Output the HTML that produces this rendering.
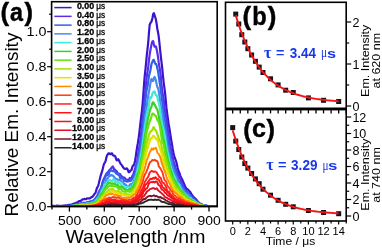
<!DOCTYPE html>
<html><head><meta charset="utf-8"><style>html,body{margin:0;padding:0;background:#fff;width:382px;height:249px;overflow:hidden}</style></head>
<body><svg width="382" height="249" viewBox="0 0 382 249" style="display:block;will-change:transform;font-family:'Liberation Sans', sans-serif">
<defs><clipPath id="clipa"><rect x="51.6" y="1.7" width="165.6" height="204.9"/></clipPath></defs>
<g clip-path="url(#clipa)"><path d="M50.55,205.78 L51.25,205.97 L51.95,205.94 L52.65,205.87 L53.35,205.90 L54.04,205.96 L54.74,206.04 L55.44,205.98 L56.14,205.75 L56.84,205.52 L57.53,205.64 L58.23,205.85 L58.93,205.89 L59.63,205.95 L60.33,205.97 L61.02,205.88 L61.72,205.79 L62.42,205.75 L63.12,205.69 L63.82,205.70 L64.51,205.60 L65.21,205.41 L65.91,205.41 L66.61,205.48 L67.31,205.37 L68.00,205.07 L68.70,204.87 L69.40,204.95 L70.10,204.89 L70.80,204.69 L71.49,204.67 L72.19,204.44 L72.89,203.99 L73.59,203.69 L74.29,203.42 L74.98,203.34 L75.68,203.25 L76.38,202.66 L77.08,202.42 L77.78,202.26 L78.47,201.52 L79.17,201.01 L79.87,201.04 L80.57,200.95 L81.27,200.51 L81.96,199.95 L82.66,199.41 L83.36,199.24 L84.06,199.13 L84.76,198.92 L85.45,199.07 L86.15,199.07 L86.85,198.55 L87.55,198.25 L88.25,198.39 L88.94,198.32 L89.64,198.29 L90.34,198.23 L91.04,197.36 L91.74,196.84 L92.43,196.78 L93.13,196.06 L93.83,194.93 L94.53,193.94 L95.23,193.26 L95.92,191.65 L96.62,189.00 L97.32,187.28 L98.02,186.25 L98.72,183.76 L99.41,180.72 L100.11,177.89 L100.81,175.13 L101.51,173.11 L102.21,170.94 L102.90,168.14 L103.60,165.15 L104.30,163.26 L105.00,162.53 L105.70,160.66 L106.39,157.43 L107.09,155.42 L107.79,154.34 L108.49,153.25 L109.19,153.26 L109.88,153.89 L110.58,154.21 L111.28,153.53 L111.98,153.28 L112.68,154.78 L113.37,155.72 L114.07,155.70 L114.77,155.84 L115.47,156.89 L116.17,159.14 L116.86,160.37 L117.56,159.69 L118.26,159.24 L118.96,160.28 L119.66,162.01 L120.35,163.38 L121.05,164.35 L121.75,165.15 L122.45,166.10 L123.15,167.38 L123.84,168.17 L124.54,168.55 L125.24,168.99 L125.94,168.88 L126.64,168.41 L127.33,168.79 L128.03,170.51 L128.73,172.25 L129.43,172.17 L130.13,170.97 L130.82,170.49 L131.52,169.84 L132.22,167.34 L132.92,165.64 L133.62,165.52 L134.31,164.05 L135.01,160.97 L135.71,156.86 L136.41,151.75 L137.11,147.06 L137.80,143.49 L138.50,139.29 L139.20,133.82 L139.90,127.70 L140.60,121.51 L141.29,115.77 L141.99,110.08 L142.69,102.91 L143.39,93.66 L144.09,83.49 L144.78,75.38 L145.48,69.18 L146.18,61.83 L146.88,54.30 L147.58,48.50 L148.27,41.97 L148.97,32.47 L149.67,24.97 L150.37,23.06 L151.07,22.32 L151.76,20.71 L152.46,17.98 L153.16,14.13 L153.86,13.11 L154.56,15.07 L155.25,17.26 L155.95,19.71 L156.65,23.92 L157.35,29.00 L158.05,32.49 L158.74,36.67 L159.44,43.16 L160.14,50.00 L160.84,56.66 L161.54,62.34 L162.23,68.15 L162.93,75.53 L163.63,81.98 L164.33,87.27 L165.03,92.65 L165.72,99.83 L166.42,107.69 L167.12,113.04 L167.82,118.18 L168.52,123.25 L169.21,127.26 L169.91,131.50 L170.61,136.27 L171.31,140.55 L172.01,144.37 L172.70,148.89 L173.40,152.54 L174.10,155.43 L174.80,158.00 L175.50,159.64 L176.19,161.60 L176.89,164.28 L177.59,167.66 L178.29,170.46 L178.99,172.00 L179.68,173.76 L180.38,175.87 L181.08,177.51 L181.78,178.62 L182.48,180.02 L183.17,181.83 L183.87,183.36 L184.57,185.15 L185.27,186.84 L185.97,187.99 L186.66,188.86 L187.36,189.13 L188.06,189.57 L188.76,190.55 L189.46,191.19 L190.15,191.82 L190.85,193.00 L191.55,194.19 L192.25,195.42 L192.95,196.36 L193.64,197.02 L194.34,197.89 L195.04,198.45 L195.74,198.95 L196.44,199.71 L197.13,200.75 L197.83,201.66 L198.53,202.24 L199.23,202.87 L199.93,203.39 L200.62,203.79 L201.32,204.19 L202.02,204.60 L202.72,204.93 L203.42,205.26 L204.11,205.54 L204.81,205.65 L205.51,205.69 L206.21,205.64 L206.91,205.81 L207.60,206.11 L208.30,206.16 L209.00,206.19 L209.70,206.26 L210.40,206.24 L211.09,206.33 L211.79,206.42 L212.49,206.38 L213.19,206.33 L213.89,206.36 L214.58,206.39 L215.28,206.32 L215.98,206.31 L216.68,206.42 L217.38,206.42" fill="none" stroke="#3a14d0" stroke-width="2.2" stroke-linejoin="round"/><path d="M50.55,206.30 L51.25,206.25 L51.95,206.15 L52.65,206.22 L53.35,206.35 L54.04,206.35 L54.74,206.21 L55.44,206.10 L56.14,206.18 L56.84,206.23 L57.53,206.22 L58.23,206.16 L58.93,206.11 L59.63,206.19 L60.33,206.22 L61.02,206.19 L61.72,206.24 L62.42,206.24 L63.12,206.15 L63.82,206.16 L64.51,206.22 L65.21,206.25 L65.91,206.19 L66.61,206.01 L67.31,205.88 L68.00,205.80 L68.70,205.74 L69.40,205.73 L70.10,205.72 L70.80,205.60 L71.49,205.54 L72.19,205.48 L72.89,205.27 L73.59,205.06 L74.29,205.03 L74.98,204.92 L75.68,204.54 L76.38,204.24 L77.08,204.29 L77.78,204.28 L78.47,204.00 L79.17,203.88 L79.87,203.96 L80.57,203.63 L81.27,203.33 L81.96,203.29 L82.66,203.01 L83.36,202.96 L84.06,203.08 L84.76,203.11 L85.45,203.19 L86.15,202.82 L86.85,202.40 L87.55,202.34 L88.25,202.14 L88.94,202.02 L89.64,201.97 L90.34,202.17 L91.04,202.44 L91.74,202.00 L92.43,201.48 L93.13,201.36 L93.83,200.87 L94.53,199.96 L95.23,199.44 L95.92,198.93 L96.62,197.55 L97.32,195.92 L98.02,194.49 L98.72,192.54 L99.41,190.61 L100.11,189.56 L100.81,188.61 L101.51,186.76 L102.21,184.00 L102.90,181.39 L103.60,179.47 L104.30,177.92 L105.00,176.47 L105.70,174.97 L106.39,173.73 L107.09,172.87 L107.79,172.35 L108.49,171.48 L109.19,170.27 L109.88,169.72 L110.58,168.99 L111.28,168.06 L111.98,167.16 L112.68,166.35 L113.37,167.54 L114.07,169.20 L114.77,169.45 L115.47,170.17 L116.17,170.97 L116.86,171.35 L117.56,173.27 L118.26,174.68 L118.96,174.10 L119.66,173.84 L120.35,174.37 L121.05,175.90 L121.75,176.73 L122.45,176.72 L123.15,177.67 L123.84,177.88 L124.54,177.68 L125.24,178.59 L125.94,179.43 L126.64,179.51 L127.33,179.75 L128.03,180.15 L128.73,179.76 L129.43,178.61 L130.13,177.86 L130.82,178.27 L131.52,177.94 L132.22,176.35 L132.92,175.00 L133.62,173.43 L134.31,171.12 L135.01,168.75 L135.71,166.56 L136.41,164.32 L137.11,161.67 L137.80,156.63 L138.50,150.95 L139.20,147.48 L139.90,143.98 L140.60,138.45 L141.29,131.39 L141.99,125.15 L142.69,118.96 L143.39,110.91 L144.09,102.89 L144.78,96.19 L145.48,89.25 L146.18,81.52 L146.88,75.77 L147.58,71.50 L148.27,66.39 L148.97,60.15 L149.67,54.47 L150.37,50.43 L151.07,46.62 L151.76,43.40 L152.46,41.25 L153.16,41.16 L153.86,44.11 L154.56,46.71 L155.25,46.24 L155.95,46.55 L156.65,49.26 L157.35,52.81 L158.05,57.45 L158.74,62.68 L159.44,66.87 L160.14,70.61 L160.84,76.85 L161.54,84.68 L162.23,91.11 L162.93,95.03 L163.63,98.79 L164.33,105.15 L165.03,111.15 L165.72,114.79 L166.42,119.07 L167.12,124.58 L167.82,129.61 L168.52,134.26 L169.21,138.89 L169.91,143.67 L170.61,147.66 L171.31,150.47 L172.01,153.18 L172.70,156.95 L173.40,161.14 L174.10,163.20 L174.80,165.01 L175.50,167.83 L176.19,169.75 L176.89,171.32 L177.59,173.52 L178.29,175.86 L178.99,177.27 L179.68,178.03 L180.38,179.43 L181.08,181.46 L181.78,183.13 L182.48,184.19 L183.17,185.52 L183.87,187.56 L184.57,188.91 L185.27,189.60 L185.97,190.63 L186.66,191.39 L187.36,191.75 L188.06,192.55 L188.76,193.46 L189.46,194.26 L190.15,195.13 L190.85,195.82 L191.55,196.77 L192.25,197.37 L192.95,197.55 L193.64,198.34 L194.34,199.27 L195.04,199.79 L195.74,200.26 L196.44,200.96 L197.13,201.54 L197.83,202.12 L198.53,202.93 L199.23,203.57 L199.93,203.84 L200.62,203.97 L201.32,204.19 L202.02,204.56 L202.72,204.99 L203.42,205.25 L204.11,205.40 L204.81,205.58 L205.51,205.67 L206.21,205.82 L206.91,206.04 L207.60,206.14 L208.30,206.12 L209.00,206.01 L209.70,206.03 L210.40,206.21 L211.09,206.40 L211.79,206.48 L212.49,206.41 L213.19,206.40 L213.89,206.42 L214.58,206.42 L215.28,206.47 L215.98,206.45 L216.68,206.43 L217.38,206.47" fill="none" stroke="#5a2ee8" stroke-width="2.2" stroke-linejoin="round"/><path d="M50.55,206.16 L51.25,206.19 L51.95,206.35 L52.65,206.37 L53.35,206.24 L54.04,206.26 L54.74,206.33 L55.44,206.30 L56.14,206.26 L56.84,206.22 L57.53,206.17 L58.23,206.11 L58.93,206.04 L59.63,206.05 L60.33,206.10 L61.02,206.08 L61.72,206.07 L62.42,206.17 L63.12,206.24 L63.82,206.17 L64.51,206.06 L65.21,205.99 L65.91,205.99 L66.61,205.98 L67.31,205.86 L68.00,205.76 L68.70,205.80 L69.40,205.82 L70.10,205.76 L70.80,205.70 L71.49,205.60 L72.19,205.46 L72.89,205.21 L73.59,204.98 L74.29,204.97 L74.98,204.90 L75.68,204.64 L76.38,204.48 L77.08,204.49 L77.78,204.34 L78.47,203.97 L79.17,203.70 L79.87,203.64 L80.57,203.68 L81.27,203.53 L81.96,203.08 L82.66,202.74 L83.36,202.76 L84.06,202.76 L84.76,202.75 L85.45,202.84 L86.15,202.75 L86.85,202.52 L87.55,202.32 L88.25,202.36 L88.94,202.28 L89.64,201.68 L90.34,201.35 L91.04,201.47 L91.74,201.33 L92.43,200.90 L93.13,200.67 L93.83,200.28 L94.53,199.40 L95.23,198.56 L95.92,197.66 L96.62,196.83 L97.32,195.99 L98.02,194.48 L98.72,192.88 L99.41,191.68 L100.11,190.21 L100.81,188.70 L101.51,186.82 L102.21,184.01 L102.90,181.95 L103.60,180.40 L104.30,178.84 L105.00,177.91 L105.70,176.10 L106.39,173.71 L107.09,173.41 L107.79,174.91 L108.49,175.01 L109.19,172.58 L109.88,170.55 L110.58,170.54 L111.28,170.57 L111.98,170.58 L112.68,171.19 L113.37,171.15 L114.07,171.00 L114.77,171.55 L115.47,172.54 L116.17,173.39 L116.86,173.86 L117.56,174.13 L118.26,173.60 L118.96,173.95 L119.66,176.61 L120.35,178.57 L121.05,178.42 L121.75,177.94 L122.45,177.96 L123.15,178.85 L123.84,180.39 L124.54,180.81 L125.24,180.77 L125.94,181.29 L126.64,181.45 L127.33,181.55 L128.03,181.51 L128.73,181.22 L129.43,180.95 L130.13,180.95 L130.82,180.93 L131.52,179.99 L132.22,178.72 L132.92,177.21 L133.62,175.67 L134.31,174.77 L135.01,173.47 L135.71,171.00 L136.41,167.45 L137.11,163.86 L137.80,160.47 L138.50,156.33 L139.20,152.63 L139.90,149.67 L140.60,145.52 L141.29,139.26 L141.99,133.55 L142.69,128.20 L143.39,120.01 L144.09,112.27 L144.78,106.91 L145.48,100.25 L146.18,92.83 L146.88,88.70 L147.58,86.00 L148.27,81.17 L148.97,75.96 L149.67,73.12 L150.37,70.48 L151.07,66.10 L151.76,63.19 L152.46,61.65 L153.16,60.10 L153.86,59.90 L154.56,61.97 L155.25,63.92 L155.95,63.82 L156.65,65.18 L157.35,68.40 L158.05,71.31 L158.74,76.02 L159.44,80.88 L160.14,85.23 L160.84,90.85 L161.54,96.19 L162.23,101.52 L162.93,107.31 L163.63,113.35 L164.33,117.71 L165.03,120.84 L165.72,125.51 L166.42,130.81 L167.12,135.30 L167.82,139.79 L168.52,144.91 L169.21,148.85 L169.91,151.79 L170.61,155.20 L171.31,158.20 L172.01,160.62 L172.70,163.20 L173.40,165.20 L174.10,166.61 L174.80,168.60 L175.50,171.13 L176.19,173.87 L176.89,176.54 L177.59,178.51 L178.29,180.16 L178.99,181.85 L179.68,182.54 L180.38,182.58 L181.08,183.29 L181.78,185.10 L182.48,186.99 L183.17,188.20 L183.87,189.16 L184.57,189.92 L185.27,190.69 L185.97,190.98 L186.66,191.24 L187.36,192.05 L188.06,192.97 L188.76,194.30 L189.46,195.22 L190.15,195.30 L190.85,195.91 L191.55,197.12 L192.25,198.14 L192.95,198.93 L193.64,199.24 L194.34,199.53 L195.04,200.35 L195.74,201.33 L196.44,201.97 L197.13,202.18 L197.83,202.47 L198.53,203.03 L199.23,203.73 L199.93,204.16 L200.62,204.30 L201.32,204.66 L202.02,204.99 L202.72,205.29 L203.42,205.65 L204.11,205.73 L204.81,205.74 L205.51,205.77 L206.21,205.82 L206.91,206.06 L207.60,206.30 L208.30,206.31 L209.00,206.27 L209.70,206.34 L210.40,206.47 L211.09,206.48 L211.79,206.38 L212.49,206.36 L213.19,206.45 L213.89,206.46 L214.58,206.45 L215.28,206.55 L215.98,206.47 L216.68,206.33 L217.38,206.38" fill="none" stroke="#3060e8" stroke-width="2.2" stroke-linejoin="round"/><path d="M50.55,206.38 L51.25,206.37 L51.95,206.33 L52.65,206.37 L53.35,206.36 L54.04,206.35 L54.74,206.37 L55.44,206.36 L56.14,206.42 L56.84,206.42 L57.53,206.37 L58.23,206.35 L58.93,206.29 L59.63,206.27 L60.33,206.34 L61.02,206.39 L61.72,206.39 L62.42,206.34 L63.12,206.28 L63.82,206.27 L64.51,206.26 L65.21,206.27 L65.91,206.25 L66.61,206.19 L67.31,206.19 L68.00,206.08 L68.70,205.98 L69.40,206.04 L70.10,206.09 L70.80,206.07 L71.49,206.03 L72.19,205.95 L72.89,205.80 L73.59,205.61 L74.29,205.32 L74.98,205.03 L75.68,204.92 L76.38,204.85 L77.08,204.79 L77.78,204.78 L78.47,204.83 L79.17,204.76 L79.87,204.30 L80.57,203.87 L81.27,203.91 L81.96,203.89 L82.66,203.68 L83.36,203.78 L84.06,203.96 L84.76,203.98 L85.45,203.84 L86.15,203.39 L86.85,203.02 L87.55,203.23 L88.25,203.48 L88.94,203.35 L89.64,203.28 L90.34,203.24 L91.04,202.80 L91.74,202.33 L92.43,202.07 L93.13,201.94 L93.83,201.99 L94.53,201.47 L95.23,200.18 L95.92,199.48 L96.62,199.20 L97.32,198.16 L98.02,196.75 L98.72,195.41 L99.41,194.22 L100.11,193.00 L100.81,191.38 L101.51,189.74 L102.21,188.67 L102.90,188.30 L103.60,187.31 L104.30,185.32 L105.00,183.38 L105.70,181.25 L106.39,179.48 L107.09,178.73 L107.79,178.16 L108.49,176.97 L109.19,176.11 L109.88,175.97 L110.58,175.39 L111.28,175.12 L111.98,175.19 L112.68,175.47 L113.37,176.21 L114.07,176.79 L114.77,177.76 L115.47,178.73 L116.17,178.88 L116.86,178.97 L117.56,179.52 L118.26,180.18 L118.96,180.48 L119.66,179.96 L120.35,179.97 L121.05,180.84 L121.75,181.38 L122.45,181.69 L123.15,182.17 L123.84,183.68 L124.54,184.66 L125.24,184.32 L125.94,184.91 L126.64,185.93 L127.33,186.40 L128.03,186.50 L128.73,186.19 L129.43,185.43 L130.13,184.19 L130.82,183.96 L131.52,184.57 L132.22,183.98 L132.92,182.79 L133.62,181.60 L134.31,179.51 L135.01,177.36 L135.71,175.46 L136.41,172.62 L137.11,168.69 L137.80,164.62 L138.50,161.51 L139.20,158.82 L139.90,155.63 L140.60,151.96 L141.29,147.60 L141.99,142.51 L142.69,137.13 L143.39,132.46 L144.09,127.06 L144.78,120.14 L145.48,114.68 L146.18,110.87 L146.88,105.77 L147.58,99.82 L148.27,95.39 L148.97,91.72 L149.67,87.69 L150.37,83.51 L151.07,79.81 L151.76,78.99 L152.46,80.86 L153.16,80.98 L153.86,78.21 L154.56,76.94 L155.25,78.34 L155.95,80.52 L156.65,84.17 L157.35,87.09 L158.05,88.38 L158.74,91.02 L159.44,95.85 L160.14,101.26 L160.84,105.65 L161.54,109.53 L162.23,113.77 L162.93,118.96 L163.63,124.06 L164.33,127.48 L165.03,130.56 L165.72,135.32 L166.42,140.66 L167.12,145.07 L167.82,147.88 L168.52,150.78 L169.21,155.37 L169.91,158.45 L170.61,159.76 L171.31,162.09 L172.01,165.10 L172.70,167.37 L173.40,169.30 L174.10,171.61 L174.80,173.60 L175.50,175.17 L176.19,176.83 L176.89,178.78 L177.59,180.74 L178.29,182.31 L178.99,184.28 L179.68,185.68 L180.38,186.26 L181.08,187.25 L181.78,188.39 L182.48,189.22 L183.17,189.72 L183.87,191.01 L184.57,192.41 L185.27,192.77 L185.97,193.31 L186.66,194.25 L187.36,194.46 L188.06,194.53 L188.76,195.44 L189.46,196.61 L190.15,197.31 L190.85,197.91 L191.55,199.15 L192.25,200.07 L192.95,200.18 L193.64,200.11 L194.34,200.19 L195.04,200.95 L195.74,201.99 L196.44,202.49 L197.13,202.80 L197.83,203.35 L198.53,203.82 L199.23,204.10 L199.93,204.38 L200.62,204.68 L201.32,204.86 L202.02,204.91 L202.72,205.21 L203.42,205.51 L204.11,205.52 L204.81,205.64 L205.51,205.87 L206.21,206.05 L206.91,206.14 L207.60,206.19 L208.30,206.23 L209.00,206.24 L209.70,206.31 L210.40,206.42 L211.09,206.40 L211.79,206.35 L212.49,206.37 L213.19,206.44 L213.89,206.47 L214.58,206.49 L215.28,206.55 L215.98,206.51 L216.68,206.42 L217.38,206.44" fill="none" stroke="#4a88f0" stroke-width="2.2" stroke-linejoin="round"/><path d="M50.55,206.41 L51.25,206.39 L51.95,206.27 L52.65,206.24 L53.35,206.32 L54.04,206.38 L54.74,206.36 L55.44,206.27 L56.14,206.30 L56.84,206.36 L57.53,206.32 L58.23,206.31 L58.93,206.33 L59.63,206.36 L60.33,206.42 L61.02,206.41 L61.72,206.36 L62.42,206.38 L63.12,206.36 L63.82,206.26 L64.51,206.30 L65.21,206.37 L65.91,206.32 L66.61,206.19 L67.31,206.11 L68.00,206.09 L68.70,206.12 L69.40,206.20 L70.10,206.17 L70.80,206.06 L71.49,205.94 L72.19,205.92 L72.89,205.81 L73.59,205.51 L74.29,205.48 L74.98,205.41 L75.68,205.14 L76.38,205.01 L77.08,205.17 L77.78,205.41 L78.47,205.14 L79.17,204.76 L79.87,204.79 L80.57,204.95 L81.27,204.80 L81.96,204.31 L82.66,204.16 L83.36,204.31 L84.06,204.22 L84.76,204.16 L85.45,204.19 L86.15,204.02 L86.85,203.76 L87.55,203.52 L88.25,203.40 L88.94,203.52 L89.64,203.56 L90.34,203.43 L91.04,203.48 L91.74,203.31 L92.43,202.83 L93.13,202.57 L93.83,202.20 L94.53,201.78 L95.23,201.42 L95.92,200.62 L96.62,199.80 L97.32,199.07 L98.02,198.21 L98.72,197.66 L99.41,196.89 L100.11,195.36 L100.81,193.61 L101.51,191.78 L102.21,190.43 L102.90,189.39 L103.60,187.67 L104.30,185.67 L105.00,184.41 L105.70,183.69 L106.39,183.01 L107.09,182.39 L107.79,181.47 L108.49,180.51 L109.19,180.01 L109.88,179.97 L110.58,180.57 L111.28,181.23 L111.98,181.12 L112.68,180.13 L113.37,179.12 L114.07,179.64 L114.77,181.38 L115.47,182.02 L116.17,181.41 L116.86,181.86 L117.56,182.69 L118.26,182.57 L118.96,182.57 L119.66,182.96 L120.35,183.55 L121.05,184.18 L121.75,185.13 L122.45,186.18 L123.15,186.66 L123.84,186.72 L124.54,186.89 L125.24,187.83 L125.94,188.27 L126.64,187.50 L127.33,186.88 L128.03,186.78 L128.73,187.41 L129.43,188.30 L130.13,188.14 L130.82,187.24 L131.52,186.80 L132.22,186.40 L132.92,184.88 L133.62,183.43 L134.31,182.40 L135.01,180.24 L135.71,177.64 L136.41,175.31 L137.11,172.44 L137.80,169.57 L138.50,167.10 L139.20,164.55 L139.90,161.21 L140.60,157.21 L141.29,153.83 L141.99,149.62 L142.69,144.35 L143.39,139.50 L144.09,133.76 L144.78,128.06 L145.48,123.80 L146.18,119.25 L146.88,114.13 L147.58,110.84 L148.27,109.15 L148.97,104.91 L149.67,99.05 L150.37,97.23 L151.07,97.94 L151.76,96.02 L152.46,93.37 L153.16,92.29 L153.86,91.54 L154.56,91.64 L155.25,93.46 L155.95,95.51 L156.65,95.42 L157.35,96.58 L158.05,100.27 L158.74,102.74 L159.44,105.71 L160.14,110.50 L160.84,116.03 L161.54,121.43 L162.23,124.94 L162.93,127.17 L163.63,130.07 L164.33,133.79 L165.03,137.76 L165.72,142.20 L166.42,147.23 L167.12,151.27 L167.82,153.68 L168.52,156.30 L169.21,160.13 L169.91,163.88 L170.61,166.66 L171.31,168.84 L172.01,170.76 L172.70,172.87 L173.40,174.55 L174.10,175.94 L174.80,177.30 L175.50,178.98 L176.19,181.75 L176.89,183.49 L177.59,183.31 L178.29,183.53 L178.99,184.89 L179.68,186.51 L180.38,187.83 L181.08,189.30 L181.78,190.81 L182.48,191.49 L183.17,192.00 L183.87,192.55 L184.57,193.25 L185.27,194.59 L185.97,195.19 L186.66,195.37 L187.36,196.37 L188.06,197.42 L188.76,197.98 L189.46,197.96 L190.15,197.83 L190.85,198.31 L191.55,199.09 L192.25,199.66 L192.95,200.02 L193.64,200.68 L194.34,201.47 L195.04,201.89 L195.74,202.06 L196.44,202.41 L197.13,202.98 L197.83,203.29 L198.53,203.64 L199.23,204.40 L199.93,204.83 L200.62,204.85 L201.32,205.05 L202.02,205.34 L202.72,205.53 L203.42,205.68 L204.11,205.80 L204.81,205.91 L205.51,206.03 L206.21,206.22 L206.91,206.31 L207.60,206.31 L208.30,206.33 L209.00,206.34 L209.70,206.39 L210.40,206.44 L211.09,206.44 L211.79,206.51 L212.49,206.58 L213.19,206.58 L213.89,206.55 L214.58,206.52 L215.28,206.46 L215.98,206.42 L216.68,206.39 L217.38,206.38" fill="none" stroke="#40e8d8" stroke-width="2.2" stroke-linejoin="round"/><path d="M50.55,206.39 L51.25,206.38 L51.95,206.32 L52.65,206.34 L53.35,206.42 L54.04,206.40 L54.74,206.36 L55.44,206.37 L56.14,206.37 L56.84,206.37 L57.53,206.40 L58.23,206.42 L58.93,206.43 L59.63,206.43 L60.33,206.46 L61.02,206.50 L61.72,206.43 L62.42,206.34 L63.12,206.36 L63.82,206.38 L64.51,206.39 L65.21,206.44 L65.91,206.44 L66.61,206.38 L67.31,206.29 L68.00,206.24 L68.70,206.23 L69.40,206.22 L70.10,206.28 L70.80,206.25 L71.49,206.06 L72.19,205.95 L72.89,206.05 L73.59,206.08 L74.29,205.84 L74.98,205.71 L75.68,205.74 L76.38,205.68 L77.08,205.50 L77.78,205.25 L78.47,205.17 L79.17,205.07 L79.87,204.78 L80.57,204.78 L81.27,204.84 L81.96,204.69 L82.66,204.46 L83.36,204.18 L84.06,204.24 L84.76,204.50 L85.45,204.57 L86.15,204.52 L86.85,204.37 L87.55,204.24 L88.25,204.12 L88.94,203.93 L89.64,203.95 L90.34,203.92 L91.04,203.88 L91.74,204.08 L92.43,203.85 L93.13,203.28 L93.83,202.94 L94.53,202.59 L95.23,202.18 L95.92,201.80 L96.62,201.37 L97.32,201.01 L98.02,200.09 L98.72,198.66 L99.41,197.81 L100.11,196.68 L100.81,194.81 L101.51,193.61 L102.21,193.04 L102.90,192.06 L103.60,190.88 L104.30,189.69 L105.00,188.23 L105.70,187.07 L106.39,186.10 L107.09,184.97 L107.79,183.79 L108.49,182.65 L109.19,182.81 L109.88,183.51 L110.58,183.31 L111.28,183.70 L111.98,183.88 L112.68,183.38 L113.37,183.67 L114.07,183.75 L114.77,183.71 L115.47,184.63 L116.17,185.22 L116.86,184.81 L117.56,184.61 L118.26,185.62 L118.96,186.97 L119.66,187.33 L120.35,186.83 L121.05,186.44 L121.75,186.89 L122.45,187.48 L123.15,188.04 L123.84,188.79 L124.54,189.08 L125.24,189.49 L125.94,190.16 L126.64,190.14 L127.33,190.17 L128.03,190.39 L128.73,189.88 L129.43,189.24 L130.13,189.18 L130.82,189.25 L131.52,188.35 L132.22,186.94 L132.92,186.44 L133.62,186.12 L134.31,184.53 L135.01,182.55 L135.71,181.07 L136.41,178.48 L137.11,175.47 L137.80,173.88 L138.50,172.43 L139.20,170.22 L139.90,166.64 L140.60,162.27 L141.29,159.31 L141.99,156.56 L142.69,152.14 L143.39,146.53 L144.09,141.59 L144.78,137.43 L145.48,133.00 L146.18,128.93 L146.88,124.71 L147.58,120.33 L148.27,117.02 L148.97,114.44 L149.67,111.33 L150.37,108.97 L151.07,107.80 L151.76,105.47 L152.46,102.91 L153.16,102.18 L153.86,103.24 L154.56,104.44 L155.25,105.64 L155.95,107.39 L156.65,108.52 L157.35,109.54 L158.05,112.32 L158.74,116.11 L159.44,120.08 L160.14,123.48 L160.84,125.79 L161.54,128.99 L162.23,133.16 L162.93,137.15 L163.63,140.13 L164.33,142.49 L165.03,146.19 L165.72,150.26 L166.42,153.03 L167.12,156.29 L167.82,159.65 L168.52,162.11 L169.21,164.93 L169.91,167.86 L170.61,170.16 L171.31,171.95 L172.01,173.90 L172.70,176.25 L173.40,178.43 L174.10,179.81 L174.80,180.51 L175.50,181.60 L176.19,183.02 L176.89,184.22 L177.59,185.99 L178.29,187.52 L178.99,188.38 L179.68,189.40 L180.38,189.96 L181.08,190.60 L181.78,191.86 L182.48,192.37 L183.17,192.57 L183.87,193.69 L184.57,194.70 L185.27,195.32 L185.97,196.14 L186.66,196.76 L187.36,197.57 L188.06,198.26 L188.76,198.36 L189.46,198.99 L190.15,199.55 L190.85,199.59 L191.55,200.12 L192.25,200.76 L192.95,201.15 L193.64,201.69 L194.34,202.27 L195.04,202.75 L195.74,202.98 L196.44,203.10 L197.13,203.43 L197.83,203.77 L198.53,204.10 L199.23,204.58 L199.93,205.00 L200.62,205.10 L201.32,205.15 L202.02,205.40 L202.72,205.64 L203.42,205.79 L204.11,205.89 L204.81,205.98 L205.51,206.11 L206.21,206.24 L206.91,206.36 L207.60,206.39 L208.30,206.35 L209.00,206.32 L209.70,206.36 L210.40,206.44 L211.09,206.49 L211.79,206.45 L212.49,206.48 L213.19,206.53 L213.89,206.48 L214.58,206.42 L215.28,206.44 L215.98,206.55 L216.68,206.58 L217.38,206.50" fill="none" stroke="#40d020" stroke-width="2.2" stroke-linejoin="round"/><path d="M50.55,206.60 L51.25,206.60 L51.95,206.58 L52.65,206.61 L53.35,206.61 L54.04,206.52 L54.74,206.43 L55.44,206.43 L56.14,206.46 L56.84,206.46 L57.53,206.41 L58.23,206.40 L58.93,206.46 L59.63,206.53 L60.33,206.53 L61.02,206.52 L61.72,206.49 L62.42,206.49 L63.12,206.52 L63.82,206.45 L64.51,206.37 L65.21,206.36 L65.91,206.39 L66.61,206.45 L67.31,206.47 L68.00,206.43 L68.70,206.31 L69.40,206.20 L70.10,206.19 L70.80,206.25 L71.49,206.25 L72.19,206.16 L72.89,206.16 L73.59,206.27 L74.29,206.20 L74.98,206.01 L75.68,205.78 L76.38,205.54 L77.08,205.55 L77.78,205.65 L78.47,205.45 L79.17,205.24 L79.87,205.25 L80.57,205.15 L81.27,204.95 L81.96,204.84 L82.66,204.89 L83.36,204.96 L84.06,204.88 L84.76,204.76 L85.45,204.68 L86.15,204.57 L86.85,204.45 L87.55,204.51 L88.25,204.62 L88.94,204.62 L89.64,204.53 L90.34,204.40 L91.04,204.23 L91.74,204.10 L92.43,204.15 L93.13,203.96 L93.83,203.50 L94.53,203.30 L95.23,202.96 L95.92,202.22 L96.62,201.95 L97.32,201.94 L98.02,200.97 L98.72,199.54 L99.41,198.65 L100.11,197.77 L100.81,196.67 L101.51,195.95 L102.21,195.02 L102.90,193.71 L103.60,192.46 L104.30,191.07 L105.00,190.03 L105.70,189.21 L106.39,188.42 L107.09,188.16 L107.79,187.29 L108.49,186.05 L109.19,185.64 L109.88,185.58 L110.58,185.83 L111.28,186.01 L111.98,185.86 L112.68,185.94 L113.37,186.22 L114.07,186.25 L114.77,186.00 L115.47,186.15 L116.17,186.73 L116.86,186.99 L117.56,187.52 L118.26,188.81 L118.96,189.11 L119.66,188.24 L120.35,188.35 L121.05,189.29 L121.75,190.10 L122.45,191.03 L123.15,191.45 L123.84,191.48 L124.54,191.64 L125.24,191.58 L125.94,191.75 L126.64,191.52 L127.33,190.78 L128.03,190.94 L128.73,191.48 L129.43,191.62 L130.13,191.80 L130.82,191.41 L131.52,190.14 L132.22,189.24 L132.92,188.85 L133.62,187.98 L134.31,187.14 L135.01,186.29 L135.71,184.02 L136.41,181.36 L137.11,179.46 L137.80,177.21 L138.50,174.95 L139.20,172.72 L139.90,169.17 L140.60,165.23 L141.29,161.71 L141.99,158.73 L142.69,156.24 L143.39,153.03 L144.09,149.20 L144.78,145.29 L145.48,140.57 L146.18,135.00 L146.88,131.14 L147.58,128.75 L148.27,126.03 L148.97,123.75 L149.67,121.44 L150.37,119.73 L151.07,118.11 L151.76,115.32 L152.46,113.66 L153.16,113.70 L153.86,114.39 L154.56,115.05 L155.25,115.57 L155.95,116.34 L156.65,117.85 L157.35,119.85 L158.05,121.08 L158.74,122.25 L159.44,124.40 L160.14,127.82 L160.84,132.42 L161.54,137.44 L162.23,141.32 L162.93,142.89 L163.63,144.07 L164.33,148.18 L165.03,153.76 L165.72,156.78 L166.42,158.92 L167.12,161.62 L167.82,163.76 L168.52,166.24 L169.21,168.96 L169.91,171.62 L170.61,174.35 L171.31,176.38 L172.01,177.47 L172.70,178.89 L173.40,181.03 L174.10,182.20 L174.80,182.95 L175.50,184.22 L176.19,185.56 L176.89,186.91 L177.59,187.68 L178.29,187.93 L178.99,188.56 L179.68,189.71 L180.38,190.92 L181.08,192.17 L181.78,192.93 L182.48,193.30 L183.17,193.98 L183.87,194.68 L184.57,195.19 L185.27,195.39 L185.97,196.18 L186.66,197.26 L187.36,197.63 L188.06,198.11 L188.76,198.83 L189.46,199.30 L190.15,199.81 L190.85,200.53 L191.55,201.06 L192.25,201.27 L192.95,201.33 L193.64,201.49 L194.34,201.92 L195.04,202.54 L195.74,203.30 L196.44,203.78 L197.13,203.87 L197.83,204.07 L198.53,204.30 L199.23,204.56 L199.93,204.98 L200.62,205.45 L201.32,205.71 L202.02,205.69 L202.72,205.77 L203.42,205.93 L204.11,206.03 L204.81,206.17 L205.51,206.17 L206.21,206.09 L206.91,206.15 L207.60,206.25 L208.30,206.31 L209.00,206.37 L209.70,206.36 L210.40,206.35 L211.09,206.41 L211.79,206.46 L212.49,206.50 L213.19,206.59 L213.89,206.68 L214.58,206.63 L215.28,206.46 L215.98,206.43 L216.68,206.51 L217.38,206.54" fill="none" stroke="#66e010" stroke-width="2.2" stroke-linejoin="round"/><path d="M50.55,206.54 L51.25,206.53 L51.95,206.50 L52.65,206.55 L53.35,206.65 L54.04,206.63 L54.74,206.53 L55.44,206.46 L56.14,206.48 L56.84,206.53 L57.53,206.54 L58.23,206.52 L58.93,206.48 L59.63,206.39 L60.33,206.36 L61.02,206.43 L61.72,206.50 L62.42,206.47 L63.12,206.43 L63.82,206.45 L64.51,206.46 L65.21,206.48 L65.91,206.51 L66.61,206.43 L67.31,206.38 L68.00,206.44 L68.70,206.41 L69.40,206.37 L70.10,206.42 L70.80,206.44 L71.49,206.44 L72.19,206.42 L72.89,206.38 L73.59,206.31 L74.29,206.20 L74.98,206.10 L75.68,206.11 L76.38,206.07 L77.08,205.82 L77.78,205.78 L78.47,205.88 L79.17,205.77 L79.87,205.66 L80.57,205.68 L81.27,205.64 L81.96,205.51 L82.66,205.43 L83.36,205.41 L84.06,205.30 L84.76,205.23 L85.45,205.17 L86.15,205.06 L86.85,205.17 L87.55,205.28 L88.25,205.13 L88.94,205.02 L89.64,204.98 L90.34,204.75 L91.04,204.50 L91.74,204.54 L92.43,204.59 L93.13,204.40 L93.83,204.11 L94.53,204.02 L95.23,204.02 L95.92,203.67 L96.62,202.94 L97.32,202.47 L98.02,202.31 L98.72,201.59 L99.41,200.37 L100.11,199.61 L100.81,199.27 L101.51,198.31 L102.21,197.09 L102.90,196.42 L103.60,195.76 L104.30,195.07 L105.00,194.32 L105.70,193.15 L106.39,192.42 L107.09,192.12 L107.79,191.06 L108.49,190.00 L109.19,189.60 L109.88,189.50 L110.58,189.40 L111.28,189.30 L111.98,189.26 L112.68,189.17 L113.37,189.81 L114.07,190.66 L114.77,190.90 L115.47,190.98 L116.17,191.20 L116.86,191.48 L117.56,191.42 L118.26,191.16 L118.96,191.41 L119.66,191.85 L120.35,192.23 L121.05,193.13 L121.75,193.90 L122.45,193.89 L123.15,193.91 L123.84,194.60 L124.54,194.64 L125.24,193.72 L125.94,193.30 L126.64,194.02 L127.33,194.94 L128.03,194.77 L128.73,194.27 L129.43,194.54 L130.13,194.81 L130.82,194.54 L131.52,194.27 L132.22,193.13 L132.92,191.31 L133.62,190.87 L134.31,191.18 L135.01,190.12 L135.71,188.11 L136.41,186.24 L137.11,184.43 L137.80,182.75 L138.50,180.76 L139.20,178.67 L139.90,177.27 L140.60,175.47 L141.29,172.36 L141.99,168.59 L142.69,164.77 L143.39,161.08 L144.09,157.35 L144.78,154.00 L145.48,150.66 L146.18,145.97 L146.88,142.17 L147.58,140.45 L148.27,138.05 L148.97,134.80 L149.67,132.73 L150.37,131.69 L151.07,131.00 L151.76,130.71 L152.46,129.66 L153.16,127.48 L153.86,127.25 L154.56,129.13 L155.25,129.88 L155.95,130.43 L156.65,132.22 L157.35,134.07 L158.05,136.32 L158.74,138.77 L159.44,140.27 L160.14,141.25 L160.84,142.61 L161.54,145.97 L162.23,150.15 L162.93,152.46 L163.63,153.78 L164.33,156.44 L165.03,160.24 L165.72,163.93 L166.42,166.96 L167.12,168.94 L167.82,170.93 L168.52,172.65 L169.21,174.49 L169.91,177.31 L170.61,178.97 L171.31,179.85 L172.01,180.94 L172.70,182.58 L173.40,185.04 L174.10,186.54 L174.80,187.15 L175.50,188.15 L176.19,189.46 L176.89,190.27 L177.59,190.89 L178.29,192.12 L178.99,192.74 L179.68,192.58 L180.38,193.00 L181.08,194.30 L181.78,195.74 L182.48,196.67 L183.17,197.31 L183.87,197.82 L184.57,197.88 L185.27,197.90 L185.97,198.57 L186.66,199.43 L187.36,200.02 L188.06,200.17 L188.76,200.37 L189.46,200.95 L190.15,201.32 L190.85,201.74 L191.55,202.22 L192.25,202.30 L192.95,202.24 L193.64,202.24 L194.34,202.52 L195.04,203.35 L195.74,203.89 L196.44,203.91 L197.13,204.17 L197.83,204.74 L198.53,205.06 L199.23,205.00 L199.93,205.13 L200.62,205.46 L201.32,205.67 L202.02,205.80 L202.72,205.94 L203.42,206.05 L204.11,206.07 L204.81,206.12 L205.51,206.26 L206.21,206.32 L206.91,206.31 L207.60,206.37 L208.30,206.45 L209.00,206.47 L209.70,206.47 L210.40,206.51 L211.09,206.47 L211.79,206.42 L212.49,206.49 L213.19,206.60 L213.89,206.61 L214.58,206.60 L215.28,206.64 L215.98,206.66 L216.68,206.64 L217.38,206.62" fill="none" stroke="#a8e000" stroke-width="2.2" stroke-linejoin="round"/><path d="M50.55,206.56 L51.25,206.57 L51.95,206.54 L52.65,206.56 L53.35,206.56 L54.04,206.53 L54.74,206.53 L55.44,206.55 L56.14,206.63 L56.84,206.68 L57.53,206.65 L58.23,206.65 L58.93,206.60 L59.63,206.54 L60.33,206.56 L61.02,206.61 L61.72,206.63 L62.42,206.60 L63.12,206.60 L63.82,206.61 L64.51,206.59 L65.21,206.57 L65.91,206.54 L66.61,206.50 L67.31,206.43 L68.00,206.41 L68.70,206.44 L69.40,206.43 L70.10,206.36 L70.80,206.27 L71.49,206.26 L72.19,206.28 L72.89,206.22 L73.59,206.19 L74.29,206.25 L74.98,206.20 L75.68,206.08 L76.38,205.97 L77.08,205.96 L77.78,206.00 L78.47,205.98 L79.17,205.83 L79.87,205.60 L80.57,205.57 L81.27,205.75 L81.96,205.55 L82.66,205.14 L83.36,205.24 L84.06,205.45 L84.76,205.59 L85.45,205.65 L86.15,205.38 L86.85,205.36 L87.55,205.46 L88.25,205.31 L88.94,205.36 L89.64,205.38 L90.34,205.16 L91.04,205.07 L91.74,205.09 L92.43,205.08 L93.13,205.11 L93.83,204.88 L94.53,204.28 L95.23,203.82 L95.92,203.63 L96.62,203.42 L97.32,203.13 L98.02,202.74 L98.72,202.03 L99.41,201.12 L100.11,200.55 L100.81,199.92 L101.51,199.33 L102.21,198.52 L102.90,197.24 L103.60,196.71 L104.30,196.32 L105.00,195.53 L105.70,194.90 L106.39,194.30 L107.09,193.64 L107.79,192.82 L108.49,192.54 L109.19,192.37 L109.88,191.59 L110.58,191.55 L111.28,191.90 L111.98,191.56 L112.68,191.02 L113.37,191.10 L114.07,191.74 L114.77,191.98 L115.47,192.08 L116.17,192.38 L116.86,192.77 L117.56,192.99 L118.26,193.30 L118.96,194.27 L119.66,194.80 L120.35,194.54 L121.05,194.48 L121.75,194.53 L122.45,194.64 L123.15,194.83 L123.84,194.90 L124.54,195.25 L125.24,195.45 L125.94,195.36 L126.64,195.55 L127.33,195.86 L128.03,196.07 L128.73,196.26 L129.43,196.09 L130.13,195.44 L130.82,194.93 L131.52,194.59 L132.22,193.62 L132.92,192.29 L133.62,191.68 L134.31,191.42 L135.01,190.47 L135.71,189.11 L136.41,187.62 L137.11,185.97 L137.80,184.31 L138.50,182.59 L139.20,181.06 L139.90,179.28 L140.60,176.74 L141.29,173.65 L141.99,170.55 L142.69,167.73 L143.39,164.41 L144.09,161.46 L144.78,159.56 L145.48,156.66 L146.18,153.16 L146.88,150.96 L147.58,148.62 L148.27,145.33 L148.97,143.40 L149.67,141.33 L150.37,138.90 L151.07,138.52 L151.76,138.02 L152.46,136.92 L153.16,135.93 L153.86,135.86 L154.56,137.00 L155.25,137.68 L155.95,138.65 L156.65,139.53 L157.35,139.74 L158.05,141.43 L158.74,144.28 L159.44,146.80 L160.14,148.85 L160.84,151.06 L161.54,153.20 L162.23,156.08 L162.93,160.56 L163.63,163.33 L164.33,164.73 L165.03,166.84 L165.72,168.59 L166.42,170.17 L167.12,171.75 L167.82,173.27 L168.52,174.90 L169.21,176.68 L169.91,178.57 L170.61,180.38 L171.31,181.97 L172.01,183.83 L172.70,186.00 L173.40,187.79 L174.10,188.66 L174.80,189.58 L175.50,190.87 L176.19,191.47 L176.89,191.84 L177.59,192.33 L178.29,193.19 L178.99,194.22 L179.68,195.22 L180.38,196.08 L181.08,196.17 L181.78,196.65 L182.48,197.50 L183.17,197.69 L183.87,198.04 L184.57,198.82 L185.27,199.38 L185.97,199.43 L186.66,199.62 L187.36,200.28 L188.06,200.72 L188.76,200.66 L189.46,200.75 L190.15,201.14 L190.85,201.59 L191.55,202.10 L192.25,202.39 L192.95,202.59 L193.64,202.65 L194.34,202.71 L195.04,203.33 L195.74,203.91 L196.44,204.21 L197.13,204.57 L197.83,204.73 L198.53,204.91 L199.23,205.27 L199.93,205.56 L200.62,205.72 L201.32,205.82 L202.02,205.85 L202.72,205.82 L203.42,205.95 L204.11,206.20 L204.81,206.26 L205.51,206.15 L206.21,206.18 L206.91,206.32 L207.60,206.40 L208.30,206.46 L209.00,206.46 L209.70,206.42 L210.40,206.50 L211.09,206.60 L211.79,206.65 L212.49,206.65 L213.19,206.56 L213.89,206.48 L214.58,206.43 L215.28,206.46 L215.98,206.54 L216.68,206.54 L217.38,206.52" fill="none" stroke="#e8e000" stroke-width="2.2" stroke-linejoin="round"/><path d="M50.55,206.57 L51.25,206.57 L51.95,206.55 L52.65,206.52 L53.35,206.52 L54.04,206.56 L54.74,206.60 L55.44,206.61 L56.14,206.62 L56.84,206.62 L57.53,206.60 L58.23,206.56 L58.93,206.53 L59.63,206.50 L60.33,206.51 L61.02,206.56 L61.72,206.60 L62.42,206.56 L63.12,206.54 L63.82,206.62 L64.51,206.65 L65.21,206.63 L65.91,206.61 L66.61,206.59 L67.31,206.56 L68.00,206.54 L68.70,206.54 L69.40,206.53 L70.10,206.52 L70.80,206.48 L71.49,206.39 L72.19,206.35 L72.89,206.34 L73.59,206.31 L74.29,206.23 L74.98,206.18 L75.68,206.25 L76.38,206.26 L77.08,206.08 L77.78,205.96 L78.47,205.96 L79.17,205.94 L79.87,205.91 L80.57,205.93 L81.27,205.96 L81.96,205.88 L82.66,205.81 L83.36,205.87 L84.06,205.78 L84.76,205.54 L85.45,205.55 L86.15,205.69 L86.85,205.85 L87.55,206.01 L88.25,205.90 L88.94,205.59 L89.64,205.50 L90.34,205.68 L91.04,205.51 L91.74,205.13 L92.43,205.04 L93.13,204.99 L93.83,204.84 L94.53,204.79 L95.23,204.62 L95.92,204.22 L96.62,203.98 L97.32,203.72 L98.02,203.31 L98.72,203.14 L99.41,202.36 L100.11,201.21 L100.81,200.85 L101.51,200.57 L102.21,200.11 L102.90,199.55 L103.60,198.87 L104.30,198.03 L105.00,196.85 L105.70,195.87 L106.39,195.32 L107.09,195.09 L107.79,194.90 L108.49,194.33 L109.19,193.83 L109.88,193.80 L110.58,194.15 L111.28,194.06 L111.98,193.58 L112.68,193.72 L113.37,194.30 L114.07,194.72 L114.77,194.70 L115.47,194.51 L116.17,194.73 L116.86,195.29 L117.56,195.50 L118.26,195.66 L118.96,195.91 L119.66,195.86 L120.35,196.09 L121.05,196.91 L121.75,197.78 L122.45,197.99 L123.15,197.78 L123.84,197.79 L124.54,197.80 L125.24,197.58 L125.94,197.60 L126.64,198.14 L127.33,198.28 L128.03,197.75 L128.73,197.54 L129.43,197.60 L130.13,197.55 L130.82,197.14 L131.52,196.50 L132.22,195.98 L132.92,195.49 L133.62,194.78 L134.31,194.19 L135.01,194.13 L135.71,193.02 L136.41,191.15 L137.11,190.02 L137.80,189.26 L138.50,187.77 L139.20,185.85 L139.90,184.34 L140.60,182.07 L141.29,179.25 L141.99,176.42 L142.69,173.98 L143.39,172.56 L144.09,170.56 L144.78,168.17 L145.48,165.63 L146.18,162.42 L146.88,159.93 L147.58,158.28 L148.27,156.53 L148.97,154.43 L149.67,152.53 L150.37,151.34 L151.07,149.98 L151.76,148.47 L152.46,149.09 L153.16,149.70 L153.86,148.31 L154.56,148.38 L155.25,148.44 L155.95,147.71 L156.65,149.81 L157.35,152.62 L158.05,153.47 L158.74,154.21 L159.44,155.55 L160.14,156.75 L160.84,159.13 L161.54,162.34 L162.23,164.30 L162.93,166.03 L163.63,168.57 L164.33,170.49 L165.03,171.74 L165.72,174.05 L166.42,176.84 L167.12,178.60 L167.82,179.90 L168.52,181.50 L169.21,182.75 L169.91,183.90 L170.61,185.91 L171.31,187.45 L172.01,188.60 L172.70,190.23 L173.40,190.88 L174.10,191.28 L174.80,192.53 L175.50,193.14 L176.19,193.18 L176.89,193.83 L177.59,194.73 L178.29,195.53 L178.99,196.24 L179.68,196.72 L180.38,196.83 L181.08,196.90 L181.78,197.74 L182.48,198.74 L183.17,199.22 L183.87,199.78 L184.57,200.47 L185.27,200.56 L185.97,200.59 L186.66,201.25 L187.36,201.50 L188.06,201.24 L188.76,201.51 L189.46,202.02 L190.15,202.21 L190.85,202.37 L191.55,202.52 L192.25,202.89 L192.95,203.31 L193.64,203.47 L194.34,203.79 L195.04,204.05 L195.74,204.14 L196.44,204.44 L197.13,204.77 L197.83,205.21 L198.53,205.64 L199.23,205.74 L199.93,205.69 L200.62,205.65 L201.32,205.72 L202.02,205.95 L202.72,206.18 L203.42,206.29 L204.11,206.29 L204.81,206.37 L205.51,206.45 L206.21,206.37 L206.91,206.30 L207.60,206.37 L208.30,206.50 L209.00,206.55 L209.70,206.57 L210.40,206.63 L211.09,206.64 L211.79,206.61 L212.49,206.57 L213.19,206.53 L213.89,206.54 L214.58,206.60 L215.28,206.64 L215.98,206.59 L216.68,206.56 L217.38,206.56" fill="none" stroke="#ff8a00" stroke-width="1.9" stroke-linejoin="round"/><path d="M50.55,206.59 L51.25,206.61 L51.95,206.62 L52.65,206.64 L53.35,206.62 L54.04,206.60 L54.74,206.61 L55.44,206.64 L56.14,206.67 L56.84,206.66 L57.53,206.64 L58.23,206.67 L58.93,206.63 L59.63,206.55 L60.33,206.59 L61.02,206.66 L61.72,206.64 L62.42,206.63 L63.12,206.69 L63.82,206.66 L64.51,206.60 L65.21,206.60 L65.91,206.61 L66.61,206.62 L67.31,206.60 L68.00,206.57 L68.70,206.56 L69.40,206.55 L70.10,206.51 L70.80,206.49 L71.49,206.52 L72.19,206.54 L72.89,206.52 L73.59,206.52 L74.29,206.57 L74.98,206.59 L75.68,206.50 L76.38,206.37 L77.08,206.34 L77.78,206.21 L78.47,206.00 L79.17,206.02 L79.87,206.18 L80.57,206.16 L81.27,206.08 L81.96,206.07 L82.66,205.99 L83.36,205.91 L84.06,205.93 L84.76,205.99 L85.45,206.04 L86.15,206.12 L86.85,206.02 L87.55,205.83 L88.25,205.90 L88.94,206.02 L89.64,205.89 L90.34,205.78 L91.04,205.84 L91.74,205.87 L92.43,205.81 L93.13,205.66 L93.83,205.43 L94.53,205.22 L95.23,205.04 L95.92,204.99 L96.62,204.99 L97.32,204.52 L98.02,204.03 L98.72,203.94 L99.41,203.70 L100.11,203.37 L100.81,202.94 L101.51,202.16 L102.21,201.37 L102.90,200.83 L103.60,200.34 L104.30,200.09 L105.00,199.92 L105.70,199.21 L106.39,198.64 L107.09,198.47 L107.79,198.30 L108.49,197.92 L109.19,197.47 L109.88,197.71 L110.58,197.91 L111.28,197.59 L111.98,197.46 L112.68,197.17 L113.37,196.92 L114.07,197.25 L114.77,197.21 L115.47,197.20 L116.17,197.88 L116.86,197.91 L117.56,197.47 L118.26,197.28 L118.96,197.62 L119.66,198.37 L120.35,198.71 L121.05,198.96 L121.75,199.37 L122.45,199.77 L123.15,199.89 L123.84,199.55 L124.54,199.54 L125.24,199.84 L125.94,199.85 L126.64,200.09 L127.33,200.67 L128.03,200.66 L128.73,199.85 L129.43,199.48 L130.13,199.66 L130.82,199.74 L131.52,199.47 L132.22,198.80 L132.92,198.21 L133.62,197.70 L134.31,197.42 L135.01,197.36 L135.71,196.54 L136.41,195.29 L137.11,194.29 L137.80,192.69 L138.50,191.31 L139.20,190.44 L139.90,188.85 L140.60,187.05 L141.29,185.54 L141.99,184.00 L142.69,181.92 L143.39,179.08 L144.09,176.37 L144.78,174.59 L145.48,173.61 L146.18,172.43 L146.88,170.53 L147.58,168.76 L148.27,166.93 L148.97,164.69 L149.67,162.83 L150.37,161.86 L151.07,161.48 L151.76,160.59 L152.46,159.94 L153.16,160.47 L153.86,160.16 L154.56,159.71 L155.25,160.44 L155.95,160.83 L156.65,160.73 L157.35,161.10 L158.05,163.33 L158.74,166.20 L159.44,167.34 L160.14,167.98 L160.84,169.33 L161.54,170.64 L162.23,171.77 L162.93,174.14 L163.63,177.16 L164.33,179.46 L165.03,180.54 L165.72,180.83 L166.42,182.27 L167.12,184.53 L167.82,186.30 L168.52,187.16 L169.21,187.90 L169.91,189.23 L170.61,190.51 L171.31,191.04 L172.01,191.47 L172.70,193.03 L173.40,194.50 L174.10,195.03 L174.80,195.44 L175.50,195.98 L176.19,196.73 L176.89,197.44 L177.59,197.69 L178.29,198.13 L178.99,198.54 L179.68,198.28 L180.38,198.83 L181.08,200.08 L181.78,200.36 L182.48,200.11 L183.17,200.15 L183.87,200.81 L184.57,201.88 L185.27,202.35 L185.97,202.25 L186.66,202.36 L187.36,202.67 L188.06,202.73 L188.76,202.75 L189.46,203.11 L190.15,203.53 L190.85,203.64 L191.55,203.76 L192.25,203.90 L192.95,203.98 L193.64,204.16 L194.34,204.37 L195.04,204.58 L195.74,204.61 L196.44,204.83 L197.13,205.28 L197.83,205.46 L198.53,205.63 L199.23,205.82 L199.93,205.84 L200.62,205.96 L201.32,206.15 L202.02,206.17 L202.72,206.19 L203.42,206.31 L204.11,206.36 L204.81,206.36 L205.51,206.45 L206.21,206.46 L206.91,206.43 L207.60,206.52 L208.30,206.62 L209.00,206.62 L209.70,206.60 L210.40,206.59 L211.09,206.57 L211.79,206.57 L212.49,206.59 L213.19,206.58 L213.89,206.55 L214.58,206.59 L215.28,206.62 L215.98,206.59 L216.68,206.59 L217.38,206.60" fill="none" stroke="#ff3a10" stroke-width="1.9" stroke-linejoin="round"/><path d="M50.55,206.69 L51.25,206.69 L51.95,206.67 L52.65,206.62 L53.35,206.60 L54.04,206.63 L54.74,206.64 L55.44,206.65 L56.14,206.67 L56.84,206.68 L57.53,206.66 L58.23,206.63 L58.93,206.65 L59.63,206.67 L60.33,206.64 L61.02,206.60 L61.72,206.60 L62.42,206.63 L63.12,206.61 L63.82,206.58 L64.51,206.62 L65.21,206.63 L65.91,206.62 L66.61,206.62 L67.31,206.63 L68.00,206.63 L68.70,206.62 L69.40,206.58 L70.10,206.60 L70.80,206.62 L71.49,206.59 L72.19,206.55 L72.89,206.50 L73.59,206.42 L74.29,206.41 L74.98,206.49 L75.68,206.54 L76.38,206.52 L77.08,206.42 L77.78,206.35 L78.47,206.40 L79.17,206.44 L79.87,206.46 L80.57,206.41 L81.27,206.22 L81.96,206.14 L82.66,206.20 L83.36,206.15 L84.06,206.21 L84.76,206.29 L85.45,206.17 L86.15,206.07 L86.85,206.11 L87.55,206.08 L88.25,206.01 L88.94,206.04 L89.64,206.02 L90.34,206.03 L91.04,206.18 L91.74,206.30 L92.43,206.23 L93.13,206.01 L93.83,205.90 L94.53,205.95 L95.23,205.72 L95.92,205.46 L96.62,205.43 L97.32,205.18 L98.02,204.77 L98.72,204.62 L99.41,204.51 L100.11,204.24 L100.81,203.81 L101.51,203.30 L102.21,202.96 L102.90,202.66 L103.60,202.30 L104.30,202.04 L105.00,201.76 L105.70,201.14 L106.39,200.58 L107.09,200.19 L107.79,199.73 L108.49,199.55 L109.19,199.46 L109.88,199.14 L110.58,199.06 L111.28,199.50 L111.98,199.74 L112.68,199.58 L113.37,199.44 L114.07,199.42 L114.77,199.47 L115.47,199.75 L116.17,200.09 L116.86,200.11 L117.56,200.39 L118.26,200.68 L118.96,200.43 L119.66,200.56 L120.35,200.81 L121.05,200.82 L121.75,201.15 L122.45,201.49 L123.15,201.22 L123.84,200.80 L124.54,200.74 L125.24,201.04 L125.94,201.48 L126.64,201.51 L127.33,201.13 L128.03,201.04 L128.73,201.43 L129.43,201.89 L130.13,201.71 L130.82,201.18 L131.52,201.03 L132.22,200.58 L132.92,199.55 L133.62,198.86 L134.31,198.99 L135.01,198.91 L135.71,198.12 L136.41,197.11 L137.11,196.09 L137.80,195.53 L138.50,195.52 L139.20,194.92 L139.90,193.41 L140.60,191.72 L141.29,190.31 L141.99,189.31 L142.69,187.96 L143.39,186.54 L144.09,184.63 L144.78,182.15 L145.48,180.84 L146.18,179.75 L146.88,178.39 L147.58,177.59 L148.27,176.62 L148.97,174.66 L149.67,172.57 L150.37,171.82 L151.07,171.31 L151.76,170.77 L152.46,171.05 L153.16,171.74 L153.86,172.04 L154.56,171.43 L155.25,171.45 L155.95,171.88 L156.65,172.55 L157.35,173.88 L158.05,174.78 L158.74,176.07 L159.44,177.26 L160.14,177.36 L160.84,178.18 L161.54,180.40 L162.23,182.30 L162.93,182.71 L163.63,182.67 L164.33,183.86 L165.03,185.07 L165.72,185.89 L166.42,188.05 L167.12,190.25 L167.82,191.22 L168.52,191.45 L169.21,191.90 L169.91,193.18 L170.61,194.15 L171.31,194.87 L172.01,195.62 L172.70,196.13 L173.40,196.82 L174.10,197.71 L174.80,198.41 L175.50,198.85 L176.19,199.30 L176.89,199.57 L177.59,199.68 L178.29,199.89 L178.99,200.22 L179.68,200.38 L180.38,200.60 L181.08,201.36 L181.78,201.80 L182.48,201.84 L183.17,202.18 L183.87,202.35 L184.57,202.43 L185.27,202.82 L185.97,203.06 L186.66,203.07 L187.36,203.34 L188.06,203.80 L188.76,204.09 L189.46,204.27 L190.15,204.50 L190.85,204.63 L191.55,204.63 L192.25,204.52 L192.95,204.61 L193.64,204.92 L194.34,205.19 L195.04,205.44 L195.74,205.59 L196.44,205.56 L197.13,205.54 L197.83,205.63 L198.53,205.79 L199.23,206.10 L199.93,206.28 L200.62,206.14 L201.32,206.06 L202.02,206.15 L202.72,206.22 L203.42,206.22 L204.11,206.24 L204.81,206.34 L205.51,206.39 L206.21,206.44 L206.91,206.51 L207.60,206.57 L208.30,206.62 L209.00,206.63 L209.70,206.61 L210.40,206.63 L211.09,206.67 L211.79,206.68 L212.49,206.65 L213.19,206.60 L213.89,206.61 L214.58,206.65 L215.28,206.68 L215.98,206.67 L216.68,206.62 L217.38,206.63" fill="none" stroke="#ff2020" stroke-width="1.9" stroke-linejoin="round"/><path d="M50.55,206.63 L51.25,206.58 L51.95,206.57 L52.65,206.61 L53.35,206.63 L54.04,206.64 L54.74,206.63 L55.44,206.62 L56.14,206.66 L56.84,206.69 L57.53,206.71 L58.23,206.70 L58.93,206.65 L59.63,206.63 L60.33,206.64 L61.02,206.66 L61.72,206.68 L62.42,206.68 L63.12,206.65 L63.82,206.61 L64.51,206.59 L65.21,206.62 L65.91,206.66 L66.61,206.66 L67.31,206.64 L68.00,206.65 L68.70,206.66 L69.40,206.60 L70.10,206.59 L70.80,206.62 L71.49,206.64 L72.19,206.61 L72.89,206.56 L73.59,206.57 L74.29,206.53 L74.98,206.43 L75.68,206.37 L76.38,206.39 L77.08,206.45 L77.78,206.44 L78.47,206.35 L79.17,206.33 L79.87,206.36 L80.57,206.35 L81.27,206.40 L81.96,206.49 L82.66,206.43 L83.36,206.25 L84.06,206.16 L84.76,206.20 L85.45,206.30 L86.15,206.31 L86.85,206.24 L87.55,206.27 L88.25,206.32 L88.94,206.26 L89.64,206.21 L90.34,206.14 L91.04,206.07 L91.74,206.02 L92.43,205.95 L93.13,205.99 L93.83,206.11 L94.53,206.02 L95.23,205.75 L95.92,205.69 L96.62,205.86 L97.32,205.72 L98.02,205.11 L98.72,204.60 L99.41,204.52 L100.11,204.49 L100.81,204.46 L101.51,204.51 L102.21,203.99 L102.90,203.12 L103.60,202.92 L104.30,202.92 L105.00,202.28 L105.70,201.71 L106.39,201.55 L107.09,201.51 L107.79,201.52 L108.49,201.40 L109.19,200.95 L109.88,200.73 L110.58,200.90 L111.28,200.88 L111.98,200.74 L112.68,200.47 L113.37,200.77 L114.07,201.35 L114.77,201.04 L115.47,200.81 L116.17,201.19 L116.86,201.38 L117.56,201.53 L118.26,201.73 L118.96,201.48 L119.66,201.18 L120.35,201.22 L121.05,201.28 L121.75,201.37 L122.45,201.61 L123.15,201.85 L123.84,201.76 L124.54,201.53 L125.24,201.71 L125.94,202.21 L126.64,202.64 L127.33,202.69 L128.03,202.43 L128.73,202.48 L129.43,202.67 L130.13,202.34 L130.82,201.92 L131.52,201.83 L132.22,201.46 L132.92,200.76 L133.62,200.74 L134.31,201.08 L135.01,200.57 L135.71,199.55 L136.41,198.83 L137.11,198.32 L137.80,197.74 L138.50,197.12 L139.20,196.54 L139.90,195.65 L140.60,194.83 L141.29,194.39 L141.99,192.69 L142.69,190.60 L143.39,189.86 L144.09,188.50 L144.78,186.00 L145.48,184.67 L146.18,184.40 L146.88,183.73 L147.58,182.61 L148.27,181.50 L148.97,180.62 L149.67,179.64 L150.37,178.65 L151.07,178.73 L151.76,179.20 L152.46,178.56 L153.16,177.78 L153.86,178.47 L154.56,178.63 L155.25,177.29 L155.95,177.37 L156.65,178.69 L157.35,179.24 L158.05,179.07 L158.74,179.65 L159.44,181.15 L160.14,182.41 L160.84,183.48 L161.54,184.69 L162.23,186.41 L162.93,187.65 L163.63,187.92 L164.33,188.34 L165.03,189.31 L165.72,190.24 L166.42,190.86 L167.12,191.57 L167.82,192.51 L168.52,193.44 L169.21,194.19 L169.91,195.14 L170.61,195.88 L171.31,196.67 L172.01,197.93 L172.70,198.21 L173.40,198.22 L174.10,199.13 L174.80,199.61 L175.50,199.44 L176.19,199.69 L176.89,200.38 L177.59,200.98 L178.29,201.43 L178.99,201.52 L179.68,201.45 L180.38,201.77 L181.08,202.15 L181.78,202.37 L182.48,202.62 L183.17,202.92 L183.87,203.31 L184.57,203.51 L185.27,203.61 L185.97,203.76 L186.66,203.58 L187.36,203.40 L188.06,203.50 L188.76,203.85 L189.46,204.38 L190.15,204.66 L190.85,204.84 L191.55,205.10 L192.25,205.31 L192.95,205.27 L193.64,205.09 L194.34,205.07 L195.04,205.16 L195.74,205.30 L196.44,205.57 L197.13,205.84 L197.83,205.92 L198.53,205.89 L199.23,205.98 L199.93,206.18 L200.62,206.32 L201.32,206.30 L202.02,206.26 L202.72,206.33 L203.42,206.47 L204.11,206.51 L204.81,206.54 L205.51,206.60 L206.21,206.61 L206.91,206.61 L207.60,206.62 L208.30,206.60 L209.00,206.55 L209.70,206.52 L210.40,206.57 L211.09,206.62 L211.79,206.67 L212.49,206.68 L213.19,206.61 L213.89,206.59 L214.58,206.64 L215.28,206.64 L215.98,206.62 L216.68,206.66 L217.38,206.70" fill="none" stroke="#ff1414" stroke-width="1.9" stroke-linejoin="round"/><path d="M50.55,206.64 L51.25,206.65 L51.95,206.66 L52.65,206.67 L53.35,206.64 L54.04,206.64 L54.74,206.66 L55.44,206.67 L56.14,206.68 L56.84,206.69 L57.53,206.69 L58.23,206.69 L58.93,206.67 L59.63,206.65 L60.33,206.67 L61.02,206.67 L61.72,206.64 L62.42,206.62 L63.12,206.63 L63.82,206.64 L64.51,206.64 L65.21,206.66 L65.91,206.67 L66.61,206.65 L67.31,206.63 L68.00,206.62 L68.70,206.63 L69.40,206.66 L70.10,206.65 L70.80,206.64 L71.49,206.62 L72.19,206.59 L72.89,206.59 L73.59,206.59 L74.29,206.55 L74.98,206.51 L75.68,206.46 L76.38,206.45 L77.08,206.51 L77.78,206.55 L78.47,206.47 L79.17,206.40 L79.87,206.44 L80.57,206.54 L81.27,206.58 L81.96,206.54 L82.66,206.47 L83.36,206.38 L84.06,206.33 L84.76,206.32 L85.45,206.29 L86.15,206.25 L86.85,206.27 L87.55,206.31 L88.25,206.32 L88.94,206.26 L89.64,206.19 L90.34,206.15 L91.04,206.17 L91.74,206.23 L92.43,206.14 L93.13,206.02 L93.83,206.04 L94.53,206.08 L95.23,206.04 L95.92,205.96 L96.62,205.74 L97.32,205.49 L98.02,205.39 L98.72,205.37 L99.41,205.34 L100.11,204.99 L100.81,204.47 L101.51,204.33 L102.21,204.26 L102.90,203.99 L103.60,203.72 L104.30,203.46 L105.00,203.03 L105.70,202.68 L106.39,202.64 L107.09,202.47 L107.79,202.19 L108.49,202.07 L109.19,202.05 L109.88,202.02 L110.58,202.26 L111.28,202.54 L111.98,202.47 L112.68,202.37 L113.37,202.31 L114.07,202.02 L114.77,201.92 L115.47,202.15 L116.17,202.15 L116.86,202.20 L117.56,202.53 L118.26,202.60 L118.96,202.39 L119.66,202.41 L120.35,202.65 L121.05,202.77 L121.75,202.94 L122.45,203.13 L123.15,203.02 L123.84,202.74 L124.54,202.79 L125.24,203.27 L125.94,203.44 L126.64,203.30 L127.33,203.34 L128.03,203.33 L128.73,203.23 L129.43,203.16 L130.13,203.00 L130.82,202.96 L131.52,202.96 L132.22,202.83 L132.92,202.56 L133.62,201.82 L134.31,201.41 L135.01,201.30 L135.71,200.78 L136.41,200.27 L137.11,199.64 L137.80,198.91 L138.50,198.39 L139.20,197.79 L139.90,197.04 L140.60,196.43 L141.29,195.84 L141.99,195.27 L142.69,194.05 L143.39,191.96 L144.09,190.92 L144.78,190.55 L145.48,189.24 L146.18,188.47 L146.88,188.39 L147.58,187.26 L148.27,185.26 L148.97,183.49 L149.67,182.55 L150.37,182.26 L151.07,182.05 L151.76,182.12 L152.46,182.34 L153.16,181.80 L153.86,181.82 L154.56,182.58 L155.25,182.22 L155.95,181.36 L156.65,181.34 L157.35,182.50 L158.05,184.10 L158.74,185.08 L159.44,185.46 L160.14,186.05 L160.84,187.53 L161.54,189.11 L162.23,189.85 L162.93,189.97 L163.63,190.55 L164.33,191.79 L165.03,192.75 L165.72,193.03 L166.42,193.61 L167.12,194.83 L167.82,195.51 L168.52,195.85 L169.21,196.26 L169.91,196.64 L170.61,197.30 L171.31,197.90 L172.01,198.18 L172.70,198.71 L173.40,199.45 L174.10,200.19 L174.80,200.77 L175.50,201.06 L176.19,201.48 L176.89,201.86 L177.59,202.14 L178.29,202.52 L178.99,202.70 L179.68,202.66 L180.38,202.74 L181.08,202.93 L181.78,202.94 L182.48,202.92 L183.17,203.34 L183.87,204.01 L184.57,204.38 L185.27,204.43 L185.97,204.57 L186.66,204.85 L187.36,205.01 L188.06,205.01 L188.76,204.79 L189.46,204.50 L190.15,204.62 L190.85,205.06 L191.55,205.33 L192.25,205.53 L192.95,205.61 L193.64,205.53 L194.34,205.57 L195.04,205.68 L195.74,205.73 L196.44,205.80 L197.13,205.89 L197.83,206.00 L198.53,206.09 L199.23,206.19 L199.93,206.25 L200.62,206.33 L201.32,206.47 L202.02,206.51 L202.72,206.49 L203.42,206.50 L204.11,206.53 L204.81,206.60 L205.51,206.64 L206.21,206.61 L206.91,206.61 L207.60,206.62 L208.30,206.59 L209.00,206.59 L209.70,206.60 L210.40,206.62 L211.09,206.63 L211.79,206.62 L212.49,206.64 L213.19,206.64 L213.89,206.63 L214.58,206.64 L215.28,206.66 L215.98,206.68 L216.68,206.67 L217.38,206.66" fill="none" stroke="#f01020" stroke-width="1.9" stroke-linejoin="round"/><path d="M50.55,206.66 L51.25,206.67 L51.95,206.66 L52.65,206.66 L53.35,206.67 L54.04,206.68 L54.74,206.69 L55.44,206.70 L56.14,206.68 L56.84,206.67 L57.53,206.67 L58.23,206.66 L58.93,206.67 L59.63,206.67 L60.33,206.67 L61.02,206.65 L61.72,206.64 L62.42,206.67 L63.12,206.70 L63.82,206.68 L64.51,206.66 L65.21,206.64 L65.91,206.65 L66.61,206.65 L67.31,206.61 L68.00,206.61 L68.70,206.65 L69.40,206.67 L70.10,206.68 L70.80,206.63 L71.49,206.60 L72.19,206.65 L72.89,206.68 L73.59,206.67 L74.29,206.65 L74.98,206.61 L75.68,206.62 L76.38,206.63 L77.08,206.56 L77.78,206.49 L78.47,206.54 L79.17,206.64 L79.87,206.63 L80.57,206.59 L81.27,206.61 L81.96,206.58 L82.66,206.52 L83.36,206.44 L84.06,206.46 L84.76,206.56 L85.45,206.49 L86.15,206.44 L86.85,206.50 L87.55,206.53 L88.25,206.53 L88.94,206.48 L89.64,206.38 L90.34,206.29 L91.04,206.29 L91.74,206.39 L92.43,206.40 L93.13,206.39 L93.83,206.51 L94.53,206.44 L95.23,206.14 L95.92,205.98 L96.62,206.05 L97.32,206.06 L98.02,205.99 L98.72,205.83 L99.41,205.67 L100.11,205.54 L100.81,205.31 L101.51,205.08 L102.21,204.89 L102.90,204.82 L103.60,204.74 L104.30,204.36 L105.00,204.08 L105.70,203.94 L106.39,203.62 L107.09,203.51 L107.79,203.57 L108.49,203.50 L109.19,203.50 L109.88,203.39 L110.58,203.03 L111.28,202.96 L111.98,203.21 L112.68,203.30 L113.37,203.21 L114.07,203.00 L114.77,203.01 L115.47,203.30 L116.17,203.40 L116.86,203.36 L117.56,203.25 L118.26,203.31 L118.96,203.83 L119.66,204.14 L120.35,204.09 L121.05,203.95 L121.75,203.76 L122.45,203.91 L123.15,204.05 L123.84,203.97 L124.54,204.02 L125.24,204.13 L125.94,204.06 L126.64,204.00 L127.33,203.96 L128.03,203.82 L128.73,204.10 L129.43,204.36 L130.13,204.20 L130.82,204.11 L131.52,203.68 L132.22,203.10 L132.92,203.17 L133.62,203.49 L134.31,203.35 L135.01,202.73 L135.71,202.23 L136.41,201.96 L137.11,201.44 L137.80,201.01 L138.50,200.75 L139.20,200.08 L139.90,199.48 L140.60,199.47 L141.29,198.88 L141.99,197.46 L142.69,196.69 L143.39,196.58 L144.09,196.11 L144.78,195.03 L145.48,193.90 L146.18,192.90 L146.88,191.74 L147.58,191.00 L148.27,190.70 L148.97,190.15 L149.67,189.40 L150.37,188.93 L151.07,188.83 L151.76,188.51 L152.46,188.21 L153.16,188.13 L153.86,188.12 L154.56,188.64 L155.25,189.14 L155.95,188.75 L156.65,188.20 L157.35,188.97 L158.05,190.34 L158.74,190.84 L159.44,191.29 L160.14,192.00 L160.84,192.58 L161.54,193.25 L162.23,193.93 L162.93,194.43 L163.63,195.08 L164.33,196.11 L165.03,196.93 L165.72,197.45 L166.42,197.70 L167.12,197.95 L167.82,198.58 L168.52,199.01 L169.21,199.20 L169.91,199.54 L170.61,199.92 L171.31,200.28 L172.01,200.77 L172.70,201.11 L173.40,201.54 L174.10,202.08 L174.80,202.06 L175.50,202.02 L176.19,202.48 L176.89,202.70 L177.59,202.69 L178.29,202.92 L178.99,203.42 L179.68,203.93 L180.38,204.02 L181.08,203.99 L181.78,203.97 L182.48,204.02 L183.17,204.32 L183.87,204.78 L184.57,205.02 L185.27,204.74 L185.97,204.59 L186.66,204.87 L187.36,205.07 L188.06,205.04 L188.76,205.01 L189.46,205.01 L190.15,205.11 L190.85,205.47 L191.55,205.68 L192.25,205.55 L192.95,205.54 L193.64,205.74 L194.34,205.89 L195.04,206.03 L195.74,206.16 L196.44,206.27 L197.13,206.32 L197.83,206.25 L198.53,206.20 L199.23,206.28 L199.93,206.42 L200.62,206.53 L201.32,206.60 L202.02,206.58 L202.72,206.45 L203.42,206.43 L204.11,206.56 L204.81,206.60 L205.51,206.58 L206.21,206.61 L206.91,206.62 L207.60,206.64 L208.30,206.64 L209.00,206.63 L209.70,206.66 L210.40,206.68 L211.09,206.65 L211.79,206.66 L212.49,206.68 L213.19,206.68 L213.89,206.67 L214.58,206.67 L215.28,206.66 L215.98,206.65 L216.68,206.65 L217.38,206.65" fill="none" stroke="#e01020" stroke-width="1.9" stroke-linejoin="round"/><path d="M50.55,206.70 L51.25,206.68 L51.95,206.66 L52.65,206.65 L53.35,206.66 L54.04,206.67 L54.74,206.69 L55.44,206.71 L56.14,206.71 L56.84,206.69 L57.53,206.68 L58.23,206.69 L58.93,206.68 L59.63,206.66 L60.33,206.65 L61.02,206.65 L61.72,206.66 L62.42,206.69 L63.12,206.70 L63.82,206.67 L64.51,206.66 L65.21,206.67 L65.91,206.69 L66.61,206.70 L67.31,206.70 L68.00,206.69 L68.70,206.69 L69.40,206.67 L70.10,206.64 L70.80,206.65 L71.49,206.68 L72.19,206.67 L72.89,206.66 L73.59,206.64 L74.29,206.60 L74.98,206.63 L75.68,206.68 L76.38,206.66 L77.08,206.61 L77.78,206.61 L78.47,206.66 L79.17,206.68 L79.87,206.65 L80.57,206.60 L81.27,206.57 L81.96,206.57 L82.66,206.54 L83.36,206.54 L84.06,206.62 L84.76,206.59 L85.45,206.52 L86.15,206.54 L86.85,206.54 L87.55,206.52 L88.25,206.56 L88.94,206.61 L89.64,206.60 L90.34,206.55 L91.04,206.54 L91.74,206.60 L92.43,206.61 L93.13,206.48 L93.83,206.42 L94.53,206.42 L95.23,206.42 L95.92,206.48 L96.62,206.46 L97.32,206.29 L98.02,206.15 L98.72,206.27 L99.41,206.29 L100.11,206.03 L100.81,205.75 L101.51,205.57 L102.21,205.53 L102.90,205.36 L103.60,205.15 L104.30,205.17 L105.00,205.01 L105.70,204.83 L106.39,205.02 L107.09,204.94 L107.79,204.59 L108.49,204.60 L109.19,204.75 L109.88,204.49 L110.58,204.23 L111.28,204.32 L111.98,204.38 L112.68,204.47 L113.37,204.49 L114.07,204.27 L114.77,204.20 L115.47,204.35 L116.17,204.55 L116.86,204.64 L117.56,204.61 L118.26,204.67 L118.96,204.82 L119.66,204.80 L120.35,204.77 L121.05,204.98 L121.75,205.09 L122.45,205.08 L123.15,205.17 L123.84,205.27 L124.54,205.17 L125.24,205.03 L125.94,205.13 L126.64,205.11 L127.33,205.01 L128.03,205.09 L128.73,205.01 L129.43,205.03 L130.13,205.20 L130.82,205.13 L131.52,204.86 L132.22,204.55 L132.92,204.46 L133.62,204.62 L134.31,204.77 L135.01,204.64 L135.71,204.33 L136.41,204.07 L137.11,203.70 L137.80,203.25 L138.50,202.77 L139.20,202.34 L139.90,202.08 L140.60,201.78 L141.29,201.31 L141.99,200.64 L142.69,199.93 L143.39,199.24 L144.09,198.95 L144.78,199.18 L145.48,198.92 L146.18,197.83 L146.88,197.17 L147.58,196.90 L148.27,196.29 L148.97,196.03 L149.67,195.91 L150.37,195.82 L151.07,196.19 L151.76,196.19 L152.46,195.79 L153.16,195.58 L153.86,195.32 L154.56,195.64 L155.25,196.36 L155.95,196.09 L156.65,195.98 L157.35,196.61 L158.05,196.84 L158.74,197.25 L159.44,197.45 L160.14,196.92 L160.84,197.09 L161.54,198.01 L162.23,198.39 L162.93,198.27 L163.63,198.64 L164.33,199.29 L165.03,199.71 L165.72,200.23 L166.42,200.68 L167.12,200.98 L167.82,201.34 L168.52,201.64 L169.21,202.05 L169.91,202.49 L170.61,202.69 L171.31,202.67 L172.01,202.76 L172.70,203.17 L173.40,203.53 L174.10,203.70 L174.80,204.04 L175.50,204.28 L176.19,204.20 L176.89,204.10 L177.59,204.18 L178.29,204.27 L178.99,204.32 L179.68,204.55 L180.38,204.79 L181.08,204.89 L181.78,205.01 L182.48,205.08 L183.17,205.14 L183.87,205.39 L184.57,205.59 L185.27,205.59 L185.97,205.58 L186.66,205.65 L187.36,205.77 L188.06,205.94 L188.76,205.95 L189.46,205.79 L190.15,205.73 L190.85,205.84 L191.55,205.86 L192.25,205.81 L192.95,205.91 L193.64,206.04 L194.34,206.09 L195.04,206.15 L195.74,206.20 L196.44,206.24 L197.13,206.30 L197.83,206.38 L198.53,206.44 L199.23,206.42 L199.93,206.46 L200.62,206.55 L201.32,206.61 L202.02,206.61 L202.72,206.58 L203.42,206.58 L204.11,206.60 L204.81,206.62 L205.51,206.63 L206.21,206.65 L206.91,206.66 L207.60,206.66 L208.30,206.67 L209.00,206.67 L209.70,206.66 L210.40,206.65 L211.09,206.63 L211.79,206.63 L212.49,206.67 L213.19,206.70 L213.89,206.71 L214.58,206.70 L215.28,206.68 L215.98,206.67 L216.68,206.67 L217.38,206.67" fill="none" stroke="#7a1428" stroke-width="1.9" stroke-linejoin="round"/><path d="M50.55,206.71 L51.25,206.71 L51.95,206.69 L52.65,206.68 L53.35,206.68 L54.04,206.68 L54.74,206.69 L55.44,206.69 L56.14,206.69 L56.84,206.69 L57.53,206.68 L58.23,206.67 L58.93,206.69 L59.63,206.72 L60.33,206.71 L61.02,206.69 L61.72,206.68 L62.42,206.69 L63.12,206.70 L63.82,206.70 L64.51,206.70 L65.21,206.69 L65.91,206.67 L66.61,206.67 L67.31,206.68 L68.00,206.66 L68.70,206.65 L69.40,206.67 L70.10,206.69 L70.80,206.69 L71.49,206.70 L72.19,206.70 L72.89,206.69 L73.59,206.67 L74.29,206.65 L74.98,206.65 L75.68,206.66 L76.38,206.65 L77.08,206.67 L77.78,206.65 L78.47,206.60 L79.17,206.58 L79.87,206.57 L80.57,206.55 L81.27,206.58 L81.96,206.63 L82.66,206.65 L83.36,206.65 L84.06,206.64 L84.76,206.65 L85.45,206.66 L86.15,206.68 L86.85,206.64 L87.55,206.54 L88.25,206.57 L88.94,206.65 L89.64,206.63 L90.34,206.65 L91.04,206.68 L91.74,206.63 L92.43,206.57 L93.13,206.52 L93.83,206.52 L94.53,206.55 L95.23,206.53 L95.92,206.46 L96.62,206.42 L97.32,206.40 L98.02,206.35 L98.72,206.31 L99.41,206.39 L100.11,206.33 L100.81,206.09 L101.51,205.96 L102.21,205.91 L102.90,205.91 L103.60,205.93 L104.30,205.86 L105.00,205.77 L105.70,205.71 L106.39,205.64 L107.09,205.51 L107.79,205.36 L108.49,205.21 L109.19,205.21 L109.88,205.37 L110.58,205.34 L111.28,205.21 L111.98,205.39 L112.68,205.60 L113.37,205.46 L114.07,205.37 L114.77,205.46 L115.47,205.52 L116.17,205.46 L116.86,205.30 L117.56,205.29 L118.26,205.34 L118.96,205.30 L119.66,205.40 L120.35,205.64 L121.05,205.78 L121.75,205.72 L122.45,205.58 L123.15,205.53 L123.84,205.49 L124.54,205.55 L125.24,205.73 L125.94,205.84 L126.64,205.67 L127.33,205.51 L128.03,205.69 L128.73,205.81 L129.43,205.66 L130.13,205.50 L130.82,205.58 L131.52,205.70 L132.22,205.63 L132.92,205.47 L133.62,205.29 L134.31,204.97 L135.01,204.68 L135.71,204.62 L136.41,204.68 L137.11,204.71 L137.80,204.59 L138.50,204.20 L139.20,203.80 L139.90,203.67 L140.60,203.56 L141.29,203.32 L141.99,203.11 L142.69,202.89 L143.39,202.55 L144.09,202.19 L144.78,201.75 L145.48,201.32 L146.18,201.15 L146.88,200.88 L147.58,200.38 L148.27,200.00 L148.97,199.93 L149.67,199.88 L150.37,199.58 L151.07,199.66 L151.76,199.90 L152.46,199.87 L153.16,199.97 L153.86,199.98 L154.56,199.64 L155.25,199.57 L155.95,199.88 L156.65,199.93 L157.35,199.75 L158.05,199.68 L158.74,199.94 L159.44,200.14 L160.14,200.45 L160.84,201.13 L161.54,201.65 L162.23,202.00 L162.93,202.09 L163.63,202.05 L164.33,202.21 L165.03,202.47 L165.72,202.83 L166.42,203.14 L167.12,203.34 L167.82,203.66 L168.52,204.00 L169.21,204.16 L169.91,204.07 L170.61,204.15 L171.31,204.47 L172.01,204.76 L172.70,205.03 L173.40,205.02 L174.10,204.97 L174.80,205.06 L175.50,205.07 L176.19,205.11 L176.89,205.21 L177.59,205.40 L178.29,205.55 L178.99,205.46 L179.68,205.44 L180.38,205.55 L181.08,205.65 L181.78,205.75 L182.48,205.75 L183.17,205.69 L183.87,205.83 L184.57,205.96 L185.27,205.93 L185.97,205.97 L186.66,206.03 L187.36,206.14 L188.06,206.27 L188.76,206.11 L189.46,205.97 L190.15,206.16 L190.85,206.29 L191.55,206.13 L192.25,206.04 L192.95,206.22 L193.64,206.40 L194.34,206.44 L195.04,206.42 L195.74,206.39 L196.44,206.37 L197.13,206.48 L197.83,206.61 L198.53,206.60 L199.23,206.53 L199.93,206.52 L200.62,206.60 L201.32,206.67 L202.02,206.65 L202.72,206.65 L203.42,206.67 L204.11,206.65 L204.81,206.64 L205.51,206.64 L206.21,206.64 L206.91,206.64 L207.60,206.63 L208.30,206.64 L209.00,206.67 L209.70,206.68 L210.40,206.67 L211.09,206.68 L211.79,206.69 L212.49,206.69 L213.19,206.70 L213.89,206.72 L214.58,206.73 L215.28,206.70 L215.98,206.66 L216.68,206.66 L217.38,206.67" fill="none" stroke="#2a2828" stroke-width="1.9" stroke-linejoin="round"/></g>
<rect x="51.6" y="1.7" width="165.6" height="204.9" fill="none" stroke="#000" stroke-width="1.6"/>
<line x1="47.10" y1="206.70" x2="51.60" y2="206.70" stroke="#000" stroke-width="1.2"/>
<text transform="translate(46.40,211.10) scale(1.1,1.0)" font-size="13" text-anchor="end" font-weight="normal" fill="#000" >0.0</text>
<line x1="49.10" y1="189.20" x2="51.60" y2="189.20" stroke="#000" stroke-width="1.2"/>
<line x1="47.10" y1="171.70" x2="51.60" y2="171.70" stroke="#000" stroke-width="1.2"/>
<text transform="translate(46.40,176.10) scale(1.1,1.0)" font-size="13" text-anchor="end" font-weight="normal" fill="#000" >0.2</text>
<line x1="49.10" y1="154.20" x2="51.60" y2="154.20" stroke="#000" stroke-width="1.2"/>
<line x1="47.10" y1="136.70" x2="51.60" y2="136.70" stroke="#000" stroke-width="1.2"/>
<text transform="translate(46.40,141.10) scale(1.1,1.0)" font-size="13" text-anchor="end" font-weight="normal" fill="#000" >0.4</text>
<line x1="49.10" y1="119.20" x2="51.60" y2="119.20" stroke="#000" stroke-width="1.2"/>
<line x1="47.10" y1="101.70" x2="51.60" y2="101.70" stroke="#000" stroke-width="1.2"/>
<text transform="translate(46.40,106.10) scale(1.1,1.0)" font-size="13" text-anchor="end" font-weight="normal" fill="#000" >0.6</text>
<line x1="49.10" y1="84.20" x2="51.60" y2="84.20" stroke="#000" stroke-width="1.2"/>
<line x1="47.10" y1="66.70" x2="51.60" y2="66.70" stroke="#000" stroke-width="1.2"/>
<text transform="translate(46.40,71.10) scale(1.1,1.0)" font-size="13" text-anchor="end" font-weight="normal" fill="#000" >0.8</text>
<line x1="49.10" y1="49.20" x2="51.60" y2="49.20" stroke="#000" stroke-width="1.2"/>
<line x1="47.10" y1="31.70" x2="51.60" y2="31.70" stroke="#000" stroke-width="1.2"/>
<text transform="translate(46.40,36.10) scale(1.1,1.0)" font-size="13" text-anchor="end" font-weight="normal" fill="#000" >1.0</text>
<line x1="49.10" y1="14.20" x2="51.60" y2="14.20" stroke="#000" stroke-width="1.2"/>
<line x1="51.95" y1="206.60" x2="51.95" y2="209.60" stroke="#000" stroke-width="1.3"/>
<line x1="69.40" y1="206.60" x2="69.40" y2="211.60" stroke="#000" stroke-width="1.3"/>
<text transform="translate(69.60,224.90) scale(1.134,1.0)" font-size="12.3" text-anchor="middle" font-weight="normal" fill="#000" >500</text>
<line x1="86.85" y1="206.60" x2="86.85" y2="209.60" stroke="#000" stroke-width="1.3"/>
<line x1="104.30" y1="206.60" x2="104.30" y2="211.60" stroke="#000" stroke-width="1.3"/>
<text transform="translate(104.50,224.90) scale(1.134,1.0)" font-size="12.3" text-anchor="middle" font-weight="normal" fill="#000" >600</text>
<line x1="121.75" y1="206.60" x2="121.75" y2="209.60" stroke="#000" stroke-width="1.3"/>
<line x1="139.20" y1="206.60" x2="139.20" y2="211.60" stroke="#000" stroke-width="1.3"/>
<text transform="translate(139.40,224.90) scale(1.134,1.0)" font-size="12.3" text-anchor="middle" font-weight="normal" fill="#000" >700</text>
<line x1="156.65" y1="206.60" x2="156.65" y2="209.60" stroke="#000" stroke-width="1.3"/>
<line x1="174.10" y1="206.60" x2="174.10" y2="211.60" stroke="#000" stroke-width="1.3"/>
<text transform="translate(174.30,224.90) scale(1.134,1.0)" font-size="12.3" text-anchor="middle" font-weight="normal" fill="#000" >800</text>
<line x1="191.55" y1="206.60" x2="191.55" y2="209.60" stroke="#000" stroke-width="1.3"/>
<line x1="209.00" y1="206.60" x2="209.00" y2="211.60" stroke="#000" stroke-width="1.3"/>
<text transform="translate(209.20,224.90) scale(1.134,1.0)" font-size="12.3" text-anchor="middle" font-weight="normal" fill="#000" >900</text>
<text transform="translate(135.40,242.90) scale(1.094,1.0)" font-size="17.8" text-anchor="middle" font-weight="normal" fill="#000" >Wavelength /nm</text>
<text transform="translate(17.50,124.50) rotate(-90) scale(1.028,1.0)" font-size="18.5" text-anchor="middle" font-weight="normal" fill="#000" >Relative Em. Intensity</text>
<text transform="translate(0.42,20.80)" font-size="25.6" text-anchor="start" font-weight="bold" fill="#000" stroke="#000" stroke-width="0.45">(</text>
<text transform="translate(24.50,20.80)" font-size="25.6" text-anchor="start" font-weight="bold" fill="#000" stroke="#000" stroke-width="0.45">)</text>
<text transform="translate(10.00,20.75) scale(0.91,1.0)" font-size="25.6" text-anchor="start" font-weight="bold" fill="#000" stroke="#000" stroke-width="0.45">a</text>
<line x1="54.30" y1="7.60" x2="71.60" y2="7.60" stroke="#3a14d0" stroke-width="1.5"/>
<text transform="translate(94.20,8.80) scale(1.06,1.0)" font-size="8.4" text-anchor="end" font-weight="bold" fill="#000" stroke="#000" stroke-width="0.3">0.00</text>
<text transform="translate(96.20,8.80)" font-size="8.2" text-anchor="start" font-weight="normal" fill="#000" stroke="#000" stroke-width="0.3">μs</text>
<line x1="54.30" y1="16.36" x2="71.60" y2="16.36" stroke="#5a2ee8" stroke-width="1.5"/>
<text transform="translate(94.20,17.56) scale(1.06,1.0)" font-size="8.4" text-anchor="end" font-weight="bold" fill="#000" stroke="#000" stroke-width="0.3">0.40</text>
<text transform="translate(96.20,17.56)" font-size="8.2" text-anchor="start" font-weight="normal" fill="#000" stroke="#000" stroke-width="0.3">μs</text>
<line x1="54.30" y1="25.12" x2="71.60" y2="25.12" stroke="#3060e8" stroke-width="1.5"/>
<text transform="translate(94.20,26.32) scale(1.06,1.0)" font-size="8.4" text-anchor="end" font-weight="bold" fill="#000" stroke="#000" stroke-width="0.3">0.80</text>
<text transform="translate(96.20,26.32)" font-size="8.2" text-anchor="start" font-weight="normal" fill="#000" stroke="#000" stroke-width="0.3">μs</text>
<line x1="54.30" y1="33.88" x2="71.60" y2="33.88" stroke="#4a88f0" stroke-width="1.5"/>
<text transform="translate(94.20,35.08) scale(1.06,1.0)" font-size="8.4" text-anchor="end" font-weight="bold" fill="#000" stroke="#000" stroke-width="0.3">1.20</text>
<text transform="translate(96.20,35.08)" font-size="8.2" text-anchor="start" font-weight="normal" fill="#000" stroke="#000" stroke-width="0.3">μs</text>
<line x1="54.30" y1="42.64" x2="71.60" y2="42.64" stroke="#40e8d8" stroke-width="1.5"/>
<text transform="translate(94.20,43.84) scale(1.06,1.0)" font-size="8.4" text-anchor="end" font-weight="bold" fill="#000" stroke="#000" stroke-width="0.3">1.60</text>
<text transform="translate(96.20,43.84)" font-size="8.2" text-anchor="start" font-weight="normal" fill="#000" stroke="#000" stroke-width="0.3">μs</text>
<line x1="54.30" y1="51.40" x2="71.60" y2="51.40" stroke="#40d020" stroke-width="1.5"/>
<text transform="translate(94.20,52.60) scale(1.06,1.0)" font-size="8.4" text-anchor="end" font-weight="bold" fill="#000" stroke="#000" stroke-width="0.3">2.00</text>
<text transform="translate(96.20,52.60)" font-size="8.2" text-anchor="start" font-weight="normal" fill="#000" stroke="#000" stroke-width="0.3">μs</text>
<line x1="54.30" y1="60.16" x2="71.60" y2="60.16" stroke="#66e010" stroke-width="1.5"/>
<text transform="translate(94.20,61.36) scale(1.06,1.0)" font-size="8.4" text-anchor="end" font-weight="bold" fill="#000" stroke="#000" stroke-width="0.3">2.50</text>
<text transform="translate(96.20,61.36)" font-size="8.2" text-anchor="start" font-weight="normal" fill="#000" stroke="#000" stroke-width="0.3">μs</text>
<line x1="54.30" y1="68.92" x2="71.60" y2="68.92" stroke="#a8e000" stroke-width="1.5"/>
<text transform="translate(94.20,70.12) scale(1.06,1.0)" font-size="8.4" text-anchor="end" font-weight="bold" fill="#000" stroke="#000" stroke-width="0.3">3.00</text>
<text transform="translate(96.20,70.12)" font-size="8.2" text-anchor="start" font-weight="normal" fill="#000" stroke="#000" stroke-width="0.3">μs</text>
<line x1="54.30" y1="77.68" x2="71.60" y2="77.68" stroke="#e8e000" stroke-width="1.5"/>
<text transform="translate(94.20,78.88) scale(1.06,1.0)" font-size="8.4" text-anchor="end" font-weight="bold" fill="#000" stroke="#000" stroke-width="0.3">3.50</text>
<text transform="translate(96.20,78.88)" font-size="8.2" text-anchor="start" font-weight="normal" fill="#000" stroke="#000" stroke-width="0.3">μs</text>
<line x1="54.30" y1="86.44" x2="71.60" y2="86.44" stroke="#ff8a00" stroke-width="1.5"/>
<text transform="translate(94.20,87.64) scale(1.06,1.0)" font-size="8.4" text-anchor="end" font-weight="bold" fill="#000" stroke="#000" stroke-width="0.3">4.00</text>
<text transform="translate(96.20,87.64)" font-size="8.2" text-anchor="start" font-weight="normal" fill="#000" stroke="#000" stroke-width="0.3">μs</text>
<line x1="54.30" y1="95.20" x2="71.60" y2="95.20" stroke="#ff3a10" stroke-width="1.5"/>
<text transform="translate(94.20,96.40) scale(1.06,1.0)" font-size="8.4" text-anchor="end" font-weight="bold" fill="#000" stroke="#000" stroke-width="0.3">5.00</text>
<text transform="translate(96.20,96.40)" font-size="8.2" text-anchor="start" font-weight="normal" fill="#000" stroke="#000" stroke-width="0.3">μs</text>
<line x1="54.30" y1="103.96" x2="71.60" y2="103.96" stroke="#ff2020" stroke-width="1.5"/>
<text transform="translate(94.20,105.16) scale(1.06,1.0)" font-size="8.4" text-anchor="end" font-weight="bold" fill="#000" stroke="#000" stroke-width="0.3">6.00</text>
<text transform="translate(96.20,105.16)" font-size="8.2" text-anchor="start" font-weight="normal" fill="#000" stroke="#000" stroke-width="0.3">μs</text>
<line x1="54.30" y1="112.72" x2="71.60" y2="112.72" stroke="#ff1414" stroke-width="1.5"/>
<text transform="translate(94.20,113.92) scale(1.06,1.0)" font-size="8.4" text-anchor="end" font-weight="bold" fill="#000" stroke="#000" stroke-width="0.3">7.00</text>
<text transform="translate(96.20,113.92)" font-size="8.2" text-anchor="start" font-weight="normal" fill="#000" stroke="#000" stroke-width="0.3">μs</text>
<line x1="54.30" y1="121.48" x2="71.60" y2="121.48" stroke="#f01020" stroke-width="1.5"/>
<text transform="translate(94.20,122.68) scale(1.06,1.0)" font-size="8.4" text-anchor="end" font-weight="bold" fill="#000" stroke="#000" stroke-width="0.3">8.00</text>
<text transform="translate(96.20,122.68)" font-size="8.2" text-anchor="start" font-weight="normal" fill="#000" stroke="#000" stroke-width="0.3">μs</text>
<line x1="54.30" y1="130.24" x2="71.60" y2="130.24" stroke="#e01020" stroke-width="1.5"/>
<text transform="translate(94.20,131.44) scale(1.06,1.0)" font-size="8.4" text-anchor="end" font-weight="bold" fill="#000" stroke="#000" stroke-width="0.3">10.00</text>
<text transform="translate(96.20,131.44)" font-size="8.2" text-anchor="start" font-weight="normal" fill="#000" stroke="#000" stroke-width="0.3">μs</text>
<line x1="54.30" y1="139.00" x2="71.60" y2="139.00" stroke="#7a1428" stroke-width="1.5"/>
<text transform="translate(94.20,140.20) scale(1.06,1.0)" font-size="8.4" text-anchor="end" font-weight="bold" fill="#000" stroke="#000" stroke-width="0.3">12.00</text>
<text transform="translate(96.20,140.20)" font-size="8.2" text-anchor="start" font-weight="normal" fill="#000" stroke="#000" stroke-width="0.3">μs</text>
<line x1="54.30" y1="147.76" x2="71.60" y2="147.76" stroke="#2a2828" stroke-width="1.5"/>
<text transform="translate(94.20,148.96) scale(1.06,1.0)" font-size="8.4" text-anchor="end" font-weight="bold" fill="#000" stroke="#000" stroke-width="0.3">14.00</text>
<text transform="translate(96.20,148.96)" font-size="8.2" text-anchor="start" font-weight="normal" fill="#000" stroke="#000" stroke-width="0.3">μs</text>
<rect x="225.5" y="2.3" width="120.69999999999999" height="106.0" fill="none" stroke="#000" stroke-width="1.6"/>
<rect x="225.5" y="109.6" width="120.69999999999999" height="111.4" fill="none" stroke="#000" stroke-width="1.6"/>
<line x1="346.20" y1="106.00" x2="351.20" y2="106.00" stroke="#000" stroke-width="1.2"/>
<text transform="translate(352.40,110.60) scale(1.02,1.0)" font-size="12.3" text-anchor="start" font-weight="normal" fill="#000" >0</text>
<line x1="346.20" y1="85.00" x2="349.20" y2="85.00" stroke="#000" stroke-width="1.2"/>
<line x1="346.20" y1="64.00" x2="351.20" y2="64.00" stroke="#000" stroke-width="1.2"/>
<text transform="translate(352.40,68.60) scale(1.02,1.0)" font-size="12.3" text-anchor="start" font-weight="normal" fill="#000" >1</text>
<line x1="346.20" y1="43.00" x2="349.20" y2="43.00" stroke="#000" stroke-width="1.2"/>
<line x1="346.20" y1="22.00" x2="351.20" y2="22.00" stroke="#000" stroke-width="1.2"/>
<text transform="translate(352.40,26.60) scale(1.02,1.0)" font-size="12.3" text-anchor="start" font-weight="normal" fill="#000" >2</text>
<line x1="346.20" y1="216.00" x2="351.20" y2="216.00" stroke="#000" stroke-width="1.2"/>
<text transform="translate(352.40,220.60) scale(1.02,1.0)" font-size="12.3" text-anchor="start" font-weight="normal" fill="#000" >0</text>
<line x1="346.20" y1="207.75" x2="349.20" y2="207.75" stroke="#000" stroke-width="1.2"/>
<line x1="346.20" y1="199.50" x2="351.20" y2="199.50" stroke="#000" stroke-width="1.2"/>
<text transform="translate(352.40,204.10) scale(1.02,1.0)" font-size="12.3" text-anchor="start" font-weight="normal" fill="#000" >2</text>
<line x1="346.20" y1="191.25" x2="349.20" y2="191.25" stroke="#000" stroke-width="1.2"/>
<line x1="346.20" y1="183.00" x2="351.20" y2="183.00" stroke="#000" stroke-width="1.2"/>
<text transform="translate(352.40,187.60) scale(1.02,1.0)" font-size="12.3" text-anchor="start" font-weight="normal" fill="#000" >4</text>
<line x1="346.20" y1="174.75" x2="349.20" y2="174.75" stroke="#000" stroke-width="1.2"/>
<line x1="346.20" y1="166.50" x2="351.20" y2="166.50" stroke="#000" stroke-width="1.2"/>
<text transform="translate(352.40,171.10) scale(1.02,1.0)" font-size="12.3" text-anchor="start" font-weight="normal" fill="#000" >6</text>
<line x1="346.20" y1="158.25" x2="349.20" y2="158.25" stroke="#000" stroke-width="1.2"/>
<line x1="346.20" y1="150.00" x2="351.20" y2="150.00" stroke="#000" stroke-width="1.2"/>
<text transform="translate(352.40,154.60) scale(1.02,1.0)" font-size="12.3" text-anchor="start" font-weight="normal" fill="#000" >8</text>
<line x1="346.20" y1="141.75" x2="349.20" y2="141.75" stroke="#000" stroke-width="1.2"/>
<line x1="346.20" y1="133.50" x2="351.20" y2="133.50" stroke="#000" stroke-width="1.2"/>
<text transform="translate(352.40,138.10) scale(1.02,1.0)" font-size="12.3" text-anchor="start" font-weight="normal" fill="#000" >10</text>
<line x1="346.20" y1="125.25" x2="349.20" y2="125.25" stroke="#000" stroke-width="1.2"/>
<line x1="346.20" y1="117.00" x2="351.20" y2="117.00" stroke="#000" stroke-width="1.2"/>
<text transform="translate(352.40,121.60) scale(1.02,1.0)" font-size="12.3" text-anchor="start" font-weight="normal" fill="#000" >12</text>
<line x1="232.70" y1="109.60" x2="232.70" y2="113.40" stroke="#000" stroke-width="1.3"/>
<line x1="232.70" y1="221.00" x2="232.70" y2="224.50" stroke="#000" stroke-width="1.2"/>
<text transform="translate(232.70,234.90)" font-size="11" text-anchor="middle" font-weight="normal" fill="#000" >0</text>
<line x1="240.27" y1="109.60" x2="240.27" y2="113.40" stroke="#000" stroke-width="1.3"/>
<line x1="240.27" y1="221.00" x2="240.27" y2="223.50" stroke="#000" stroke-width="1.2"/>
<line x1="247.84" y1="109.60" x2="247.84" y2="113.40" stroke="#000" stroke-width="1.3"/>
<line x1="247.84" y1="221.00" x2="247.84" y2="224.50" stroke="#000" stroke-width="1.2"/>
<text transform="translate(247.84,234.90)" font-size="11" text-anchor="middle" font-weight="normal" fill="#000" >2</text>
<line x1="255.41" y1="109.60" x2="255.41" y2="113.40" stroke="#000" stroke-width="1.3"/>
<line x1="255.41" y1="221.00" x2="255.41" y2="223.50" stroke="#000" stroke-width="1.2"/>
<line x1="262.98" y1="109.60" x2="262.98" y2="113.40" stroke="#000" stroke-width="1.3"/>
<line x1="262.98" y1="221.00" x2="262.98" y2="224.50" stroke="#000" stroke-width="1.2"/>
<text transform="translate(262.98,234.90)" font-size="11" text-anchor="middle" font-weight="normal" fill="#000" >4</text>
<line x1="270.55" y1="109.60" x2="270.55" y2="113.40" stroke="#000" stroke-width="1.3"/>
<line x1="270.55" y1="221.00" x2="270.55" y2="223.50" stroke="#000" stroke-width="1.2"/>
<line x1="278.12" y1="109.60" x2="278.12" y2="113.40" stroke="#000" stroke-width="1.3"/>
<line x1="278.12" y1="221.00" x2="278.12" y2="224.50" stroke="#000" stroke-width="1.2"/>
<text transform="translate(278.12,234.90)" font-size="11" text-anchor="middle" font-weight="normal" fill="#000" >6</text>
<line x1="285.69" y1="109.60" x2="285.69" y2="113.40" stroke="#000" stroke-width="1.3"/>
<line x1="285.69" y1="221.00" x2="285.69" y2="223.50" stroke="#000" stroke-width="1.2"/>
<line x1="293.26" y1="109.60" x2="293.26" y2="113.40" stroke="#000" stroke-width="1.3"/>
<line x1="293.26" y1="221.00" x2="293.26" y2="224.50" stroke="#000" stroke-width="1.2"/>
<text transform="translate(293.26,234.90)" font-size="11" text-anchor="middle" font-weight="normal" fill="#000" >8</text>
<line x1="300.83" y1="109.60" x2="300.83" y2="113.40" stroke="#000" stroke-width="1.3"/>
<line x1="300.83" y1="221.00" x2="300.83" y2="223.50" stroke="#000" stroke-width="1.2"/>
<line x1="308.40" y1="109.60" x2="308.40" y2="113.40" stroke="#000" stroke-width="1.3"/>
<line x1="308.40" y1="221.00" x2="308.40" y2="224.50" stroke="#000" stroke-width="1.2"/>
<text transform="translate(308.40,234.90)" font-size="11" text-anchor="middle" font-weight="normal" fill="#000" >10</text>
<line x1="315.97" y1="109.60" x2="315.97" y2="113.40" stroke="#000" stroke-width="1.3"/>
<line x1="315.97" y1="221.00" x2="315.97" y2="223.50" stroke="#000" stroke-width="1.2"/>
<line x1="323.54" y1="109.60" x2="323.54" y2="113.40" stroke="#000" stroke-width="1.3"/>
<line x1="323.54" y1="221.00" x2="323.54" y2="224.50" stroke="#000" stroke-width="1.2"/>
<text transform="translate(323.54,234.90)" font-size="11" text-anchor="middle" font-weight="normal" fill="#000" >12</text>
<line x1="331.11" y1="109.60" x2="331.11" y2="113.40" stroke="#000" stroke-width="1.3"/>
<line x1="331.11" y1="221.00" x2="331.11" y2="223.50" stroke="#000" stroke-width="1.2"/>
<line x1="338.68" y1="109.60" x2="338.68" y2="113.40" stroke="#000" stroke-width="1.3"/>
<line x1="338.68" y1="221.00" x2="338.68" y2="224.50" stroke="#000" stroke-width="1.2"/>
<text transform="translate(338.68,234.90)" font-size="11" text-anchor="middle" font-weight="normal" fill="#000" >14</text>
<line x1="346.25" y1="109.60" x2="346.25" y2="113.40" stroke="#000" stroke-width="1.3"/>
<line x1="346.25" y1="221.00" x2="346.25" y2="223.50" stroke="#000" stroke-width="1.2"/>
<text transform="translate(290.50,245.00) scale(1.12,1.0)" font-size="10.8" text-anchor="middle" font-weight="normal" fill="#000" >Time / μs</text>
<text transform="translate(368.60,174.60) rotate(-90) scale(1.078,1.0)" font-size="11.6" text-anchor="middle" font-weight="normal" fill="#000" >Em. Intensity</text>
<text transform="translate(380.20,175.00) rotate(-90) scale(1.078,1.0)" font-size="11.6" text-anchor="middle" font-weight="normal" fill="#000" >at 740 nm</text>
<text transform="translate(368.60,60.80) rotate(-90) scale(1.078,1.0)" font-size="11.6" text-anchor="middle" font-weight="normal" fill="#000" >Em. Intensity</text>
<text transform="translate(380.20,60.70) rotate(-90) scale(1.078,1.0)" font-size="11.6" text-anchor="middle" font-weight="normal" fill="#000" >at 620 nm</text>
<text transform="translate(242.60,25.20)" font-size="25.8" text-anchor="start" font-weight="bold" fill="#000" stroke="#000" stroke-width="0.45">(</text>
<text transform="translate(267.80,25.20)" font-size="25.8" text-anchor="start" font-weight="bold" fill="#000" stroke="#000" stroke-width="0.45">)</text>
<text transform="translate(252.25,24.80) scale(0.915,1.0)" font-size="25.8" text-anchor="start" font-weight="bold" fill="#000" stroke="#000" stroke-width="0.45">b</text>
<text transform="translate(243.20,138.00)" font-size="25.3" text-anchor="start" font-weight="bold" fill="#000" stroke="#000" stroke-width="0.45">(</text>
<text transform="translate(266.60,138.00)" font-size="25.3" text-anchor="start" font-weight="bold" fill="#000" stroke="#000" stroke-width="0.45">)</text>
<text transform="translate(252.10,137.00) scale(0.99,1.0)" font-size="25.3" text-anchor="start" font-weight="bold" fill="#000" stroke="#000" stroke-width="0.45">c</text>
<text transform="translate(264.00,57.80) scale(0.92,1.0)" font-size="17.5" text-anchor="start" font-weight="bold" fill="#1838e8" font-family="'Liberation Serif', serif">τ</text>
<text transform="translate(276.00,57.40) scale(1.1,1.0)" font-size="13" text-anchor="start" font-weight="bold" fill="#1838e8" >=</text>
<text transform="translate(289.80,57.50) scale(0.954,1.0)" font-size="14.1" text-anchor="start" font-weight="bold" fill="#1838e8" >3.44</text>
<text transform="translate(321.00,57.30) scale(0.8,1.0)" font-size="14.2" text-anchor="start" font-weight="normal" fill="#1838e8" font-family="'Liberation Serif', serif">μ</text>
<text transform="translate(326.90,57.50) scale(1.2,1.0)" font-size="13.5" text-anchor="start" font-weight="bold" fill="#1838e8" >s</text>
<text transform="translate(266.20,169.80) scale(0.92,1.0)" font-size="17.5" text-anchor="start" font-weight="bold" fill="#1838e8" font-family="'Liberation Serif', serif">τ</text>
<text transform="translate(278.00,169.40) scale(1.12,1.0)" font-size="13" text-anchor="start" font-weight="bold" fill="#1838e8" >=</text>
<text transform="translate(291.10,170.00) scale(0.96,1.0)" font-size="14.1" text-anchor="start" font-weight="bold" fill="#1838e8" >3.29</text>
<text transform="translate(322.40,169.60) scale(0.8,1.0)" font-size="14.2" text-anchor="start" font-weight="normal" fill="#1838e8" font-family="'Liberation Serif', serif">μ</text>
<text transform="translate(327.90,169.80) scale(1.25,1.0)" font-size="13.5" text-anchor="start" font-weight="bold" fill="#1838e8" >s</text>
<rect x="233.23" y="11.60" width="5.0" height="5.0" fill="#14141c"/><rect x="236.26" y="21.50" width="5.0" height="5.0" fill="#14141c"/><rect x="239.28" y="32.20" width="5.0" height="5.0" fill="#14141c"/><rect x="242.31" y="39.50" width="5.0" height="5.0" fill="#14141c"/><rect x="245.34" y="46.20" width="5.0" height="5.0" fill="#14141c"/><rect x="249.12" y="52.50" width="5.0" height="5.0" fill="#14141c"/><rect x="252.91" y="58.80" width="5.0" height="5.0" fill="#14141c"/><rect x="256.69" y="64.60" width="5.0" height="5.0" fill="#14141c"/><rect x="260.48" y="70.00" width="5.0" height="5.0" fill="#14141c"/><rect x="268.05" y="76.30" width="5.0" height="5.0" fill="#14141c"/><rect x="275.62" y="82.40" width="5.0" height="5.0" fill="#14141c"/><rect x="283.19" y="87.70" width="5.0" height="5.0" fill="#14141c"/><rect x="290.76" y="90.00" width="5.0" height="5.0" fill="#14141c"/><rect x="305.90" y="95.40" width="5.0" height="5.0" fill="#14141c"/><rect x="321.04" y="97.80" width="5.0" height="5.0" fill="#14141c"/><rect x="336.18" y="99.00" width="5.0" height="5.0" fill="#14141c"/><rect x="230.20" y="125.10" width="5.0" height="5.0" fill="#14141c"/><rect x="233.23" y="138.60" width="5.0" height="5.0" fill="#14141c"/><rect x="236.26" y="147.00" width="5.0" height="5.0" fill="#14141c"/><rect x="239.28" y="154.50" width="5.0" height="5.0" fill="#14141c"/><rect x="242.31" y="161.10" width="5.0" height="5.0" fill="#14141c"/><rect x="245.34" y="165.60" width="5.0" height="5.0" fill="#14141c"/><rect x="249.12" y="171.00" width="5.0" height="5.0" fill="#14141c"/><rect x="252.91" y="176.40" width="5.0" height="5.0" fill="#14141c"/><rect x="256.69" y="181.20" width="5.0" height="5.0" fill="#14141c"/><rect x="260.48" y="186.70" width="5.0" height="5.0" fill="#14141c"/><rect x="268.05" y="192.70" width="5.0" height="5.0" fill="#14141c"/><rect x="275.62" y="197.80" width="5.0" height="5.0" fill="#14141c"/><rect x="283.19" y="201.80" width="5.0" height="5.0" fill="#14141c"/><rect x="290.76" y="204.30" width="5.0" height="5.0" fill="#14141c"/><rect x="305.90" y="208.00" width="5.0" height="5.0" fill="#14141c"/><rect x="321.04" y="210.00" width="5.0" height="5.0" fill="#14141c"/><rect x="336.18" y="211.20" width="5.0" height="5.0" fill="#14141c"/>
<path d="M235.73,15.14 L237.24,20.10 L238.76,24.78 L240.27,29.19 L241.78,33.35 L243.30,37.28 L244.81,40.99 L246.33,44.48 L247.84,47.78 L249.35,50.90 L250.87,53.83 L252.38,56.60 L253.90,59.22 L255.41,61.68 L256.92,64.01 L258.44,66.21 L259.95,68.28 L261.47,70.23 L262.98,72.08 L264.49,73.82 L266.01,75.46 L267.52,77.01 L269.04,78.47 L270.55,79.85 L272.06,81.15 L273.58,82.37 L275.09,83.53 L276.61,84.62 L278.12,85.65 L279.63,86.63 L281.15,87.54 L282.66,88.41 L284.18,89.23 L285.69,90.00 L287.20,90.72 L288.72,91.41 L290.23,92.06 L291.75,92.67 L293.26,93.24 L294.77,93.79 L296.29,94.30 L297.80,94.78 L299.32,95.24 L300.83,95.67 L302.34,96.08 L303.86,96.46 L305.37,96.82 L306.89,97.16 L308.40,97.48 L309.91,97.79 L311.43,98.08 L312.94,98.35 L314.46,98.60 L315.97,98.84 L317.48,99.07 L319.00,99.28 L320.51,99.48 L322.03,99.68 L323.54,99.86 L325.05,100.03 L326.57,100.19 L328.08,100.34 L329.60,100.48 L331.11,100.61 L332.62,100.74 L334.14,100.86 L335.65,100.97 L337.17,101.08 L338.68,101.18" fill="none" stroke="#f41414" stroke-width="1.9"/>
<path d="M232.70,130.35 L234.21,135.21 L235.73,139.78 L237.24,144.10 L238.76,148.16 L240.27,151.99 L241.78,155.60 L243.30,159.01 L244.81,162.21 L246.33,165.24 L247.84,168.08 L249.35,170.77 L250.87,173.30 L252.38,175.68 L253.90,177.93 L255.41,180.05 L256.92,182.04 L258.44,183.92 L259.95,185.70 L261.47,187.37 L262.98,188.94 L264.49,190.42 L266.01,191.82 L267.52,193.14 L269.04,194.38 L270.55,195.55 L272.06,196.65 L273.58,197.69 L275.09,198.67 L276.61,199.60 L278.12,200.47 L279.63,201.29 L281.15,202.06 L282.66,202.79 L284.18,203.47 L285.69,204.12 L287.20,204.73 L288.72,205.31 L290.23,205.85 L291.75,206.36 L293.26,206.84 L294.77,207.29 L296.29,207.72 L297.80,208.12 L299.32,208.50 L300.83,208.86 L302.34,209.19 L303.86,209.51 L305.37,209.81 L306.89,210.09 L308.40,210.36 L309.91,210.61 L311.43,210.85 L312.94,211.07 L314.46,211.28 L315.97,211.48 L317.48,211.66 L319.00,211.84 L320.51,212.00 L322.03,212.16 L323.54,212.31 L325.05,212.44 L326.57,212.57 L328.08,212.70 L329.60,212.81 L331.11,212.92 L332.62,213.03 L334.14,213.12 L335.65,213.21 L337.17,213.30 L338.68,213.38" fill="none" stroke="#f41414" stroke-width="1.9"/></svg></body></html>
